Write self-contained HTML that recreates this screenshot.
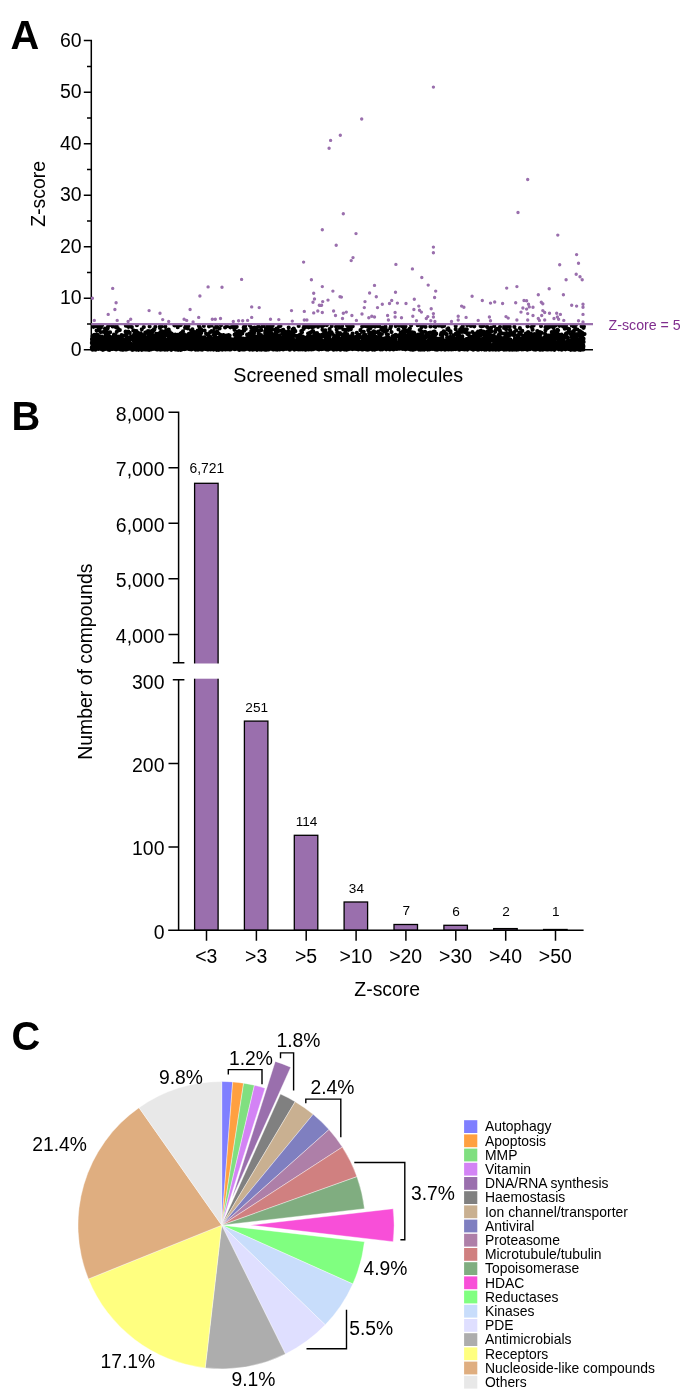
<!DOCTYPE html>
<html lang="en"><head><meta charset="utf-8"><title>Figure</title>
<style>html,body{margin:0;padding:0;background:#fff}svg{display:block}text{font-family:"Liberation Sans", Arial, sans-serif;fill:#000}.t{font-size:19.45px}.l{font-size:13.6px}.g{font-size:13.9px}.p{font-size:39.8px;font-weight:bold}.ax{stroke:#000;stroke-width:1.5;fill:none}.bar{fill:#9a6fad;stroke:#000;stroke-width:1.3}.br{stroke:#000;stroke-width:1.4;fill:none}</style>
</head><body>
<svg width="692" height="1400" viewBox="0 0 692 1400">
<rect width="692" height="1400" fill="#fff"/>
<g id="panelA">
<text class="p" x="10.6" y="49.4">A</text>
<path d="M251.3 341.7h0M127.4 338.6h0M355.8 347.6h0M341.8 347.3h0M110.2 346.5h0M136.4 348.3h0M300.9 347.5h0M201.7 345.5h0M400.9 338.0h0M287.2 345.8h0M572.8 331.8h0M234.4 344.4h0M162.8 343.8h0M493.9 344.3h0M180.8 337.9h0M275.2 343.1h0M361.6 346.7h0M193.2 348.5h0M427.0 342.4h0M380.3 346.2h0M315.0 344.6h0M436.2 333.7h0M212.0 339.4h0M523.0 344.6h0M451.2 343.5h0M149.9 339.6h0M464.8 343.4h0M111.0 340.8h0M421.0 348.7h0M523.1 337.4h0M246.3 345.5h0M377.5 337.7h0M316.5 337.5h0M325.3 330.4h0M419.0 336.0h0M410.6 344.3h0M581.1 346.4h0M281.8 342.8h0M421.2 339.3h0M174.5 348.3h0M149.4 334.6h0M155.4 343.9h0M213.7 334.8h0M131.4 337.6h0M313.1 331.0h0M495.4 343.8h0M517.5 348.0h0M268.5 340.1h0M527.4 344.5h0M178.5 348.4h0M206.0 348.7h0M382.0 338.9h0M221.2 339.9h0M273.7 349.5h0M370.8 335.8h0M345.7 345.6h0M396.0 348.4h0M535.0 347.0h0M476.1 337.8h0M285.1 337.7h0M288.3 339.0h0M122.4 341.6h0M124.9 348.3h0M259.3 344.3h0M117.6 344.3h0M141.7 349.8h0M270.9 330.6h0M394.3 346.7h0M164.9 349.7h0M271.2 341.0h0M152.2 332.3h0M321.3 325.4h0M330.1 346.0h0M260.6 347.5h0M222.2 347.1h0M103.1 344.8h0M560.3 344.5h0M359.4 348.9h0M105.0 328.7h0M434.8 345.2h0M220.4 345.9h0M472.1 345.5h0M354.2 348.3h0M201.6 341.4h0M491.6 331.2h0M488.9 348.0h0M495.0 349.4h0M346.8 343.0h0M266.9 347.6h0M229.4 349.4h0M219.4 341.4h0M312.1 327.5h0M553.5 326.1h0M271.4 348.0h0M200.3 348.9h0M192.4 343.6h0M399.2 335.0h0M328.0 339.1h0M413.5 348.6h0M417.2 346.0h0M540.0 346.6h0M327.3 334.2h0M179.7 347.7h0M486.3 341.5h0M570.5 342.1h0M558.3 343.9h0M448.9 347.4h0M166.2 345.4h0M537.6 347.9h0M499.0 344.8h0M574.8 344.9h0M362.1 342.4h0M156.2 333.9h0M351.2 347.5h0M551.8 332.1h0M498.8 342.0h0M195.7 349.7h0M210.2 341.9h0M380.7 349.2h0M156.3 339.9h0M540.2 343.4h0M379.2 341.4h0M537.3 331.1h0M338.9 339.6h0M353.8 348.0h0M308.6 349.5h0M181.9 332.7h0M176.6 349.4h0M325.0 347.9h0M252.3 337.8h0M347.1 334.1h0M144.0 344.1h0M367.8 349.7h0M472.3 342.1h0M341.9 334.9h0M541.4 343.7h0M310.1 341.2h0M344.1 342.5h0M433.1 338.6h0M327.3 346.3h0M555.7 343.7h0M556.0 331.3h0M219.6 328.5h0M505.7 341.5h0M159.3 342.4h0M127.5 342.7h0M210.3 337.1h0M478.0 343.5h0M533.8 341.3h0M417.1 337.3h0M162.2 331.3h0M199.9 333.0h0M561.1 341.0h0M579.5 343.2h0M501.9 344.5h0M345.8 341.2h0M258.8 347.0h0M447.6 341.9h0M101.3 340.1h0M100.6 346.4h0M255.1 341.7h0M123.4 341.8h0M577.1 343.7h0M143.3 343.3h0M111.2 348.4h0M155.5 342.4h0M299.8 334.8h0M219.1 340.5h0M165.3 339.0h0M436.9 343.8h0M135.8 336.2h0M301.3 344.7h0M127.4 337.3h0M486.7 344.7h0M133.0 347.6h0M516.9 347.0h0M315.3 343.4h0M548.4 339.6h0M223.7 341.8h0M209.2 341.3h0M145.6 348.2h0M191.1 347.2h0M245.4 344.3h0M234.6 334.7h0M338.1 345.9h0M100.7 341.9h0M215.1 334.4h0M363.3 348.3h0M185.1 327.8h0M144.1 346.3h0M495.3 339.7h0M503.0 345.2h0M285.4 335.3h0M575.8 349.2h0M260.6 342.4h0M405.1 336.8h0M291.1 348.0h0M155.7 347.2h0M126.6 349.4h0M172.1 342.5h0M133.3 339.3h0M422.1 333.6h0M230.6 349.4h0M318.1 341.9h0M169.3 342.8h0M565.7 347.3h0M571.0 343.0h0M567.6 347.7h0M244.2 349.5h0M279.8 349.5h0M325.6 343.4h0M340.4 349.7h0M94.1 349.4h0M288.6 345.7h0M112.2 341.8h0M206.4 348.7h0M380.3 334.2h0M415.7 346.9h0M444.5 342.9h0M252.4 343.3h0M577.0 340.8h0M408.7 337.5h0M113.3 339.5h0M400.8 332.5h0M453.3 347.8h0M349.8 345.0h0M340.3 341.0h0M499.0 335.0h0M379.5 338.5h0M433.4 340.8h0M205.0 344.8h0M269.5 348.8h0M143.4 343.5h0M401.1 339.3h0M400.3 345.1h0M93.3 339.8h0M484.8 349.7h0M355.4 338.5h0M416.6 335.5h0M216.0 343.5h0M128.4 348.3h0M192.8 334.5h0M456.3 338.8h0M280.2 348.1h0M327.8 343.2h0M395.7 334.9h0M408.5 345.0h0M216.8 347.3h0M458.0 345.7h0M97.8 338.2h0M121.6 348.1h0M432.8 335.7h0M424.7 346.9h0M320.7 338.7h0M321.5 335.0h0M189.9 336.1h0M573.7 348.2h0M317.9 349.1h0M495.7 339.6h0M224.1 347.7h0M195.1 343.6h0M378.2 347.6h0M161.5 326.5h0M157.0 346.3h0M495.9 329.9h0M438.3 348.7h0M205.7 341.0h0M103.9 343.2h0M93.5 339.4h0M240.5 349.3h0M161.0 345.2h0M505.8 342.9h0M92.6 349.7h0M150.9 331.6h0M548.2 345.1h0M234.5 329.8h0M275.1 335.4h0M269.5 328.0h0M302.6 349.3h0M141.8 346.8h0M503.0 344.8h0M214.6 328.0h0M222.7 343.6h0M275.7 349.4h0M562.9 336.8h0M402.6 338.2h0M541.8 338.6h0M446.3 345.4h0M116.1 348.6h0M462.6 339.4h0M409.3 349.1h0M548.4 346.9h0M154.4 341.2h0M238.4 348.3h0M455.9 342.5h0M415.0 348.7h0M240.0 340.9h0M174.2 346.4h0M171.4 344.4h0M336.7 329.8h0M200.1 338.8h0M160.5 332.0h0M186.5 342.5h0M136.6 345.1h0M209.5 349.2h0M528.9 337.4h0M461.1 341.4h0M350.0 344.7h0M277.4 348.0h0M228.5 346.9h0M568.6 341.9h0M402.0 341.8h0M516.9 348.2h0M214.1 342.4h0M288.7 327.5h0M509.9 341.9h0M521.9 347.4h0M441.3 349.5h0M533.1 337.3h0M91.8 347.7h0M284.6 333.8h0M513.3 341.9h0M570.8 349.8h0M167.8 345.2h0M349.1 340.4h0M447.4 329.1h0M410.7 348.8h0M363.5 339.3h0M111.2 348.4h0M545.0 343.0h0M409.8 348.1h0M215.8 345.1h0M405.3 348.3h0M126.4 345.4h0M350.1 341.6h0M201.9 345.1h0M387.9 341.7h0M318.7 349.3h0M564.3 337.6h0M325.9 334.2h0M207.4 349.4h0M439.0 325.6h0M243.2 338.7h0M424.1 348.3h0M298.7 349.2h0M547.6 335.7h0M203.5 341.3h0M299.0 348.0h0M428.1 344.3h0M455.9 333.7h0M340.5 342.8h0M245.3 325.6h0M495.8 349.0h0M466.5 343.1h0M237.0 339.1h0M184.0 346.5h0M201.8 337.6h0M559.2 342.8h0M163.8 344.6h0M571.7 345.7h0M161.6 346.6h0M285.5 348.7h0M534.3 338.3h0M583.3 339.5h0M550.8 346.9h0M552.9 344.4h0M459.5 336.0h0M278.3 347.0h0M275.9 346.9h0M93.1 344.7h0M229.6 335.6h0M152.7 330.7h0M566.9 347.4h0M496.6 341.2h0M496.8 347.0h0M325.0 348.6h0M275.4 344.3h0M271.2 346.8h0M533.7 340.2h0M491.8 347.9h0M469.5 347.3h0M122.5 349.2h0M545.1 349.1h0M534.5 334.0h0M258.8 346.4h0M395.7 326.1h0M220.9 348.1h0M227.5 341.7h0M93.6 349.0h0M404.1 328.6h0M556.5 342.9h0M325.9 348.7h0M563.2 340.8h0M215.4 347.1h0M303.6 327.9h0M181.9 348.9h0M487.2 348.5h0M472.5 332.1h0M391.0 345.9h0M270.0 342.4h0M477.2 344.2h0M462.7 346.8h0M213.6 347.5h0M364.0 348.8h0M252.2 330.2h0M578.5 347.4h0M222.2 346.1h0M337.3 347.6h0M441.5 343.2h0M297.1 347.5h0M397.4 342.5h0M509.1 335.7h0M419.1 336.6h0M236.5 337.2h0M371.1 338.9h0M189.9 338.6h0M213.6 349.6h0M527.4 344.3h0M376.7 345.4h0M580.8 341.3h0M341.7 347.8h0M413.7 332.6h0M580.0 341.1h0M495.4 343.3h0M505.9 347.5h0M236.4 348.4h0M150.4 340.3h0M379.1 326.0h0M550.1 336.5h0M313.0 336.0h0M219.8 345.8h0M143.8 327.1h0M385.5 344.9h0M273.4 345.2h0M161.4 347.7h0M387.1 342.8h0M412.8 349.4h0M253.0 348.4h0M426.0 346.5h0M191.9 342.2h0M483.6 346.5h0M141.7 348.8h0M286.5 336.9h0M136.6 345.6h0M172.4 346.5h0M231.3 340.6h0M243.3 341.9h0M370.9 347.4h0M267.7 333.3h0M582.8 340.3h0M271.0 344.8h0M192.1 335.3h0M94.6 341.6h0M496.0 344.0h0M291.9 341.9h0M171.8 342.7h0M99.0 336.9h0M540.0 345.5h0M135.6 343.2h0M340.3 343.4h0M163.6 347.4h0M547.8 338.5h0M145.3 332.6h0M568.2 348.8h0M188.9 333.8h0M572.4 333.5h0M329.6 329.2h0M282.9 342.6h0M537.3 336.9h0M170.7 337.6h0M479.0 348.1h0M508.8 340.2h0M500.3 347.1h0M288.7 343.7h0M346.9 346.2h0M213.5 346.5h0M448.9 347.6h0M368.8 348.1h0M465.0 332.1h0M149.7 345.5h0M387.1 337.1h0M242.6 345.7h0M298.7 341.1h0M416.4 344.8h0M311.9 347.9h0M396.7 349.0h0M332.9 348.3h0M476.1 333.7h0M317.5 345.2h0M144.5 340.0h0M155.0 346.0h0M309.5 348.0h0M343.1 336.7h0M132.2 346.4h0M453.2 347.8h0M118.4 338.6h0M340.0 333.0h0M158.8 333.6h0M514.1 334.3h0M493.3 349.4h0M187.2 338.8h0M563.1 348.5h0M543.1 341.3h0M550.3 335.3h0M124.0 340.3h0M169.9 336.9h0M533.5 347.1h0M162.5 332.5h0M339.2 344.1h0M221.2 346.7h0M341.1 348.7h0M181.4 347.4h0M171.2 336.5h0M533.0 344.2h0M174.9 348.8h0M353.2 345.2h0M405.3 337.5h0M365.3 334.9h0M377.5 346.5h0M581.0 346.8h0M402.1 336.4h0M222.2 339.3h0M579.8 341.8h0M468.5 345.6h0M309.7 342.8h0M115.5 335.7h0M495.7 349.5h0M576.6 336.2h0M380.4 345.5h0M92.6 342.7h0M108.4 342.0h0M304.7 339.2h0M344.3 345.8h0M203.7 346.7h0M413.6 349.1h0M266.6 349.7h0M144.1 345.6h0M379.3 344.5h0M382.0 346.0h0M325.7 337.0h0M158.1 343.2h0M165.3 347.0h0M138.9 337.3h0M477.1 335.1h0M289.8 349.7h0M409.5 348.4h0M368.8 341.7h0M310.4 338.7h0M553.5 349.1h0M536.9 342.6h0M113.4 340.3h0M208.8 347.9h0M120.5 349.5h0M363.2 348.3h0M555.4 345.8h0M391.4 344.8h0M341.5 338.8h0M177.8 336.2h0M244.2 348.9h0M530.0 346.9h0M477.5 349.6h0M507.8 348.7h0M458.9 334.5h0M314.7 346.4h0M203.0 344.3h0M110.8 345.5h0M257.0 349.8h0M508.3 335.1h0M442.4 348.6h0M306.6 337.8h0M480.2 342.4h0M408.1 348.7h0M567.3 345.8h0M99.2 330.6h0M220.0 348.4h0M557.2 334.1h0M459.4 340.7h0M253.6 332.4h0M209.6 338.6h0M433.1 342.4h0M419.5 339.2h0M505.5 348.4h0M435.5 343.4h0M448.8 341.8h0M372.8 347.5h0M398.5 343.6h0M130.0 345.3h0M105.0 347.0h0M144.3 341.9h0M161.6 346.0h0M105.9 335.7h0M404.1 346.0h0M435.2 349.5h0M382.7 346.3h0M270.8 342.5h0M530.9 333.7h0M124.2 335.5h0M557.1 334.2h0M144.5 348.5h0M108.7 345.3h0M509.5 344.7h0M498.3 337.3h0M402.9 348.8h0M139.9 345.5h0M464.9 347.5h0M300.5 341.8h0M102.0 349.5h0M444.4 342.0h0M273.1 339.2h0M339.9 327.6h0M511.3 348.0h0M295.2 348.2h0M306.8 348.5h0M439.0 341.1h0M356.8 345.8h0M136.5 331.2h0M495.7 349.6h0M191.3 349.4h0M467.3 348.9h0M333.6 349.7h0M333.9 348.0h0M335.4 344.0h0M262.8 346.2h0M556.8 343.4h0M231.5 346.5h0M337.3 335.4h0M145.9 347.2h0M480.0 346.8h0M435.3 346.7h0M266.9 336.8h0M289.4 334.0h0M134.2 337.5h0M529.5 343.4h0M221.4 348.8h0M535.8 340.5h0M527.3 349.7h0M206.8 338.4h0M463.5 346.9h0M462.8 344.4h0M252.7 342.8h0M168.2 342.0h0M457.4 338.1h0M175.3 334.6h0M377.1 343.6h0M153.8 330.5h0M209.0 345.1h0M186.1 345.1h0M507.5 335.7h0M167.9 345.8h0M252.6 343.8h0M349.0 345.3h0M185.0 342.6h0M572.3 349.2h0M566.0 345.4h0M141.8 329.3h0M483.4 331.6h0M453.1 344.0h0M406.1 347.3h0M144.4 347.2h0M108.4 340.7h0M288.3 346.1h0M338.3 335.6h0M403.3 344.7h0M389.2 348.6h0M291.1 348.6h0M303.6 329.0h0M374.6 349.7h0M204.3 339.8h0M447.6 337.8h0M436.7 338.6h0M511.8 344.0h0M315.4 337.5h0M246.0 346.8h0M298.5 346.7h0M477.3 346.7h0M214.9 336.7h0M300.4 337.0h0M293.4 346.1h0M424.5 344.3h0M414.2 347.2h0M475.2 341.3h0M572.0 342.7h0M110.5 344.4h0M477.0 348.3h0M555.2 345.4h0M374.8 349.3h0M358.3 347.5h0M406.7 338.6h0M500.2 340.1h0M558.9 348.5h0M195.2 346.0h0M467.6 341.1h0M152.0 340.9h0M119.6 348.9h0M226.9 348.5h0M298.0 348.9h0M298.9 347.0h0M222.4 341.4h0M202.3 348.6h0M351.4 327.2h0M199.6 346.8h0M196.2 340.8h0M155.4 346.9h0M404.3 332.7h0M322.9 343.5h0M566.7 347.2h0M265.7 338.5h0M493.9 336.3h0M322.4 346.5h0M153.4 338.2h0M502.6 338.4h0M223.5 335.1h0M277.1 349.6h0M183.3 339.8h0M93.0 348.4h0M212.4 342.2h0M240.4 339.8h0M405.8 348.5h0M416.6 335.6h0M512.8 333.1h0M119.8 340.1h0M478.1 331.5h0M160.9 343.2h0M99.1 338.0h0M97.4 336.5h0M214.9 345.6h0M141.7 345.5h0M474.3 344.4h0M262.4 337.9h0M481.8 332.9h0M174.4 339.7h0M476.7 341.6h0M421.1 336.6h0M505.1 339.4h0M189.0 345.7h0M457.3 338.8h0M307.8 340.8h0M222.0 341.6h0M207.1 342.7h0M120.5 341.3h0M321.9 343.0h0M337.2 341.1h0M357.6 349.1h0M506.0 349.0h0M322.3 336.8h0M505.9 344.4h0M276.5 328.6h0M128.9 338.0h0M405.6 348.3h0M392.1 348.1h0M428.1 342.0h0M575.5 346.2h0M343.3 329.5h0M108.4 347.8h0M445.6 343.7h0M516.3 343.7h0M272.1 338.3h0M471.4 347.9h0M195.5 340.6h0M364.7 345.8h0M499.1 345.0h0M290.7 332.6h0M339.9 348.3h0M572.2 338.6h0M414.3 347.6h0M248.0 341.5h0M239.2 338.2h0M478.2 342.8h0M111.4 346.4h0M360.5 330.2h0M116.2 349.5h0M185.3 348.8h0M545.8 339.0h0M480.5 341.0h0M540.1 339.7h0M400.6 341.3h0M434.9 337.9h0M196.4 341.6h0M420.4 334.2h0M141.7 345.6h0M181.0 333.8h0M542.2 346.0h0M414.8 337.8h0M479.3 336.8h0M368.7 349.4h0M299.6 341.7h0M248.6 337.4h0M551.9 344.0h0M118.6 347.3h0M150.3 348.7h0M491.0 330.8h0M311.7 340.1h0M98.7 340.1h0M553.8 341.5h0M575.0 340.1h0M142.0 348.3h0M409.3 348.5h0M99.4 344.5h0M94.1 347.8h0M567.9 345.4h0M135.1 346.4h0M100.5 346.1h0M446.2 349.0h0M184.1 334.3h0M116.4 347.5h0M513.3 334.9h0M451.3 338.2h0M441.2 343.0h0M318.7 343.2h0M566.9 346.8h0M445.1 348.2h0M412.4 349.7h0M494.5 342.6h0M451.2 345.8h0M173.5 342.7h0M121.2 341.4h0M272.8 340.7h0M425.3 345.2h0M163.1 347.1h0M409.5 341.1h0M402.0 341.6h0M479.2 345.2h0M557.4 347.1h0M235.8 337.8h0M121.6 335.1h0M499.4 347.4h0M255.3 329.1h0M501.4 333.6h0M387.9 346.2h0M529.4 340.4h0M277.3 344.6h0M533.3 337.9h0M489.6 349.7h0M221.3 349.3h0M299.9 334.8h0M529.0 340.7h0M112.5 341.1h0M519.1 334.7h0M373.5 347.0h0M489.4 331.4h0M429.1 342.3h0M133.6 345.3h0M364.6 347.9h0M461.4 343.7h0M550.9 348.5h0M425.7 336.8h0M321.0 347.8h0M461.9 342.8h0M481.8 345.8h0M489.2 348.8h0M472.2 348.5h0M533.7 337.3h0M527.9 339.1h0M382.1 348.3h0M184.9 347.7h0M437.2 344.2h0M270.5 340.9h0M346.6 346.0h0M165.1 340.6h0M144.0 340.8h0M403.5 348.5h0M386.0 344.4h0M261.7 347.9h0M108.2 349.6h0M579.8 342.5h0M371.2 341.6h0M220.6 348.0h0M558.1 339.9h0M469.8 339.5h0M216.9 327.5h0M110.4 348.0h0M132.9 344.1h0M116.8 331.8h0M317.5 343.0h0M558.5 346.9h0M386.4 347.9h0M287.5 332.2h0M218.4 333.3h0M369.9 334.7h0M421.7 331.4h0M285.4 344.5h0M567.6 348.0h0M580.4 349.3h0M217.8 347.2h0M265.2 332.9h0M504.3 337.9h0M114.9 346.4h0M410.4 335.2h0M577.3 344.8h0M463.7 348.0h0M554.6 346.2h0M383.2 342.6h0M465.2 343.1h0M218.4 344.6h0M152.9 344.0h0M209.2 349.1h0M162.2 349.1h0M445.1 348.4h0M187.8 328.5h0M200.4 344.9h0M552.0 336.4h0M160.6 335.0h0M312.1 331.8h0M506.8 337.3h0M401.4 341.5h0M497.3 347.2h0M327.0 346.1h0M200.9 346.0h0M119.7 347.1h0M163.0 338.0h0M520.8 348.8h0M168.4 340.0h0M225.3 345.2h0M174.4 342.5h0M333.7 341.3h0M148.0 331.1h0M574.0 330.8h0M421.0 342.7h0M195.8 342.0h0M218.7 348.7h0M191.1 330.5h0M583.6 327.8h0M547.6 343.4h0M533.3 345.3h0M120.0 348.6h0M574.0 341.9h0M99.6 346.7h0M160.8 341.6h0M92.6 344.0h0M183.3 339.7h0M306.2 344.1h0M373.3 346.3h0M159.7 342.8h0M442.4 335.0h0M188.6 346.2h0M391.6 347.9h0M335.9 348.8h0M393.5 343.4h0M440.5 345.0h0M191.4 338.1h0M124.1 348.7h0M447.3 340.1h0M119.0 346.6h0M506.6 341.8h0M517.7 348.1h0M540.3 349.7h0M326.6 344.6h0M183.4 344.4h0M501.5 346.0h0M274.6 345.6h0M384.9 338.3h0M311.4 349.5h0M345.8 338.8h0M494.1 339.4h0M518.2 343.3h0M279.6 336.2h0M461.9 331.9h0M561.9 342.5h0M335.5 338.1h0M356.5 348.8h0M101.9 343.2h0M181.6 348.4h0M142.3 349.7h0M106.5 332.2h0M139.2 347.8h0M100.4 343.8h0M387.1 339.5h0M438.0 344.4h0M142.4 339.5h0M114.0 338.7h0M152.3 338.6h0M229.5 349.3h0M151.8 345.5h0M383.3 346.9h0M516.0 342.3h0M459.6 339.9h0M172.7 339.5h0M283.3 329.9h0M298.9 343.6h0M286.7 340.0h0M555.6 348.3h0M210.2 341.3h0M256.8 330.1h0M541.5 339.2h0M493.4 348.0h0M346.7 347.2h0M563.7 343.2h0M299.7 346.9h0M403.5 342.1h0M125.8 341.0h0M305.1 347.8h0M160.4 349.7h0M569.6 346.1h0M403.7 327.7h0M490.5 335.0h0M108.6 336.6h0M407.9 348.4h0M226.4 335.5h0M358.9 338.0h0M215.2 343.7h0M348.1 328.4h0M233.4 340.3h0M242.2 346.9h0M384.6 345.9h0M562.9 342.3h0M321.6 349.1h0M354.8 346.9h0M156.4 345.9h0M236.4 343.3h0M211.6 345.4h0M135.0 332.3h0M392.3 344.6h0M372.7 346.1h0M441.8 344.6h0M318.8 337.3h0M322.8 345.9h0M244.7 349.5h0M344.2 343.1h0M280.5 348.5h0M265.5 349.0h0M516.4 348.9h0M333.9 337.7h0M232.1 341.8h0M472.2 349.2h0M169.8 332.2h0M308.5 341.9h0M122.3 342.0h0M454.1 343.2h0M145.5 346.1h0M455.7 326.0h0M167.8 345.2h0M424.5 342.2h0M395.4 339.4h0M346.9 335.5h0M455.8 349.1h0M325.9 333.7h0M478.5 344.4h0M154.4 329.4h0M520.8 333.6h0M380.4 349.4h0M337.1 337.7h0M297.6 346.9h0M477.9 340.7h0M278.7 340.5h0M314.6 335.1h0M236.1 345.8h0M284.2 341.0h0M250.4 346.6h0M479.6 343.2h0M310.5 340.7h0M182.5 348.0h0M375.3 344.8h0M378.3 331.6h0M251.3 338.6h0M507.3 337.1h0M192.4 329.3h0M301.9 348.6h0M115.1 349.1h0M370.1 328.4h0M472.9 349.4h0M357.1 338.3h0M346.6 349.7h0M429.4 342.9h0M384.8 344.1h0M264.7 336.2h0M350.5 345.2h0M140.5 343.0h0M368.3 343.0h0M374.6 331.9h0M331.6 332.9h0M308.6 327.3h0M260.9 327.4h0M353.0 347.5h0M248.4 344.5h0M573.9 344.5h0M146.2 339.7h0M532.5 343.3h0M579.7 333.4h0M529.4 344.9h0M234.6 347.1h0M343.8 343.6h0M181.6 349.6h0M402.2 342.7h0M581.4 344.4h0M405.4 340.3h0M479.8 347.2h0M242.9 349.5h0M241.7 349.0h0M506.7 337.7h0M188.6 342.5h0M337.0 342.7h0M410.4 347.3h0M353.6 337.3h0M294.3 349.6h0M151.6 340.9h0M144.3 336.4h0M141.0 344.3h0M497.3 339.6h0M393.8 348.6h0M97.9 346.6h0M471.4 343.1h0M266.1 336.2h0M175.2 349.3h0M537.1 345.5h0M378.6 343.7h0M281.8 341.3h0M118.6 340.1h0M564.6 341.8h0M308.4 344.5h0M113.4 344.9h0M550.4 344.7h0M534.7 343.2h0M493.8 345.5h0M564.8 337.6h0M335.9 343.0h0M283.8 347.6h0M445.8 348.3h0M523.1 341.7h0M330.4 347.9h0M177.2 342.9h0M268.3 339.9h0M235.0 326.4h0M368.4 341.0h0M281.7 342.0h0M290.4 345.3h0M498.7 347.8h0M264.8 349.6h0M231.5 343.6h0M208.6 336.1h0M260.0 346.7h0M168.5 348.6h0M224.6 345.8h0M503.2 342.6h0M503.8 342.4h0M488.4 345.0h0M447.7 342.3h0M277.4 343.5h0M560.3 348.1h0M340.5 348.3h0M156.2 339.4h0M439.8 348.4h0M381.3 329.4h0M273.0 349.5h0M196.4 336.8h0M521.6 341.6h0M359.1 341.8h0M225.0 348.5h0M415.7 340.5h0M371.5 346.3h0M134.1 341.0h0M178.9 344.8h0M418.3 343.0h0M145.4 341.4h0M338.3 346.4h0M238.0 342.3h0M203.3 346.5h0M153.9 348.2h0M290.5 342.2h0M539.6 346.7h0M516.1 330.3h0M156.8 349.4h0M426.6 347.5h0M418.7 343.9h0M416.5 341.9h0M436.3 349.6h0M265.2 331.3h0M401.6 347.8h0M541.5 345.5h0M453.4 349.2h0M111.4 347.1h0M171.5 347.2h0M279.3 342.1h0M111.0 344.7h0M180.2 337.2h0M505.4 336.1h0M217.2 343.3h0M306.0 346.3h0M92.2 341.7h0M502.8 348.5h0M112.9 342.1h0M512.6 347.5h0M212.2 347.9h0M146.5 348.1h0M542.4 343.5h0M461.1 337.2h0M285.7 342.2h0M460.1 346.1h0M136.0 343.0h0M558.1 330.3h0M432.5 339.7h0M455.7 343.3h0M314.8 338.0h0M118.5 346.6h0M344.0 340.2h0M549.1 338.6h0M113.2 338.2h0M438.0 347.3h0M361.0 342.8h0M569.4 342.0h0M214.7 340.7h0M121.0 343.6h0M191.0 342.1h0M244.7 340.0h0M422.0 338.5h0M208.9 349.2h0M311.0 338.3h0M552.9 345.0h0M527.7 343.3h0M161.6 341.9h0M493.5 346.5h0M361.9 349.4h0M420.2 344.0h0M386.7 334.0h0M501.3 345.9h0M148.1 347.6h0M193.4 341.1h0M121.4 348.6h0M437.5 343.6h0M312.5 343.4h0M322.7 344.3h0M270.6 348.0h0M97.0 346.6h0M580.6 349.8h0M445.1 345.8h0M574.8 345.6h0M332.6 348.0h0M305.7 345.4h0M95.8 338.7h0M544.9 341.6h0M552.6 339.2h0M413.3 349.7h0M160.0 342.6h0M105.3 347.0h0M237.7 331.8h0M183.2 337.9h0M548.4 335.7h0M174.7 345.9h0M457.5 332.3h0M252.7 342.7h0M249.5 333.5h0M273.3 341.1h0M501.4 346.9h0M209.7 337.9h0M401.3 346.6h0M495.7 344.1h0M557.4 329.9h0M335.3 344.2h0M239.3 349.8h0M378.1 337.1h0M172.3 342.8h0M310.1 345.7h0M111.4 349.0h0M308.3 344.2h0M93.1 335.6h0M506.1 339.5h0M301.4 336.6h0M231.3 343.8h0M299.3 340.1h0M258.6 336.7h0M498.8 344.5h0M537.2 345.7h0M310.1 342.9h0M369.3 346.2h0M133.6 344.7h0M251.2 327.6h0M518.2 343.6h0M571.9 336.9h0M491.4 346.6h0M121.3 344.0h0M238.1 338.1h0M373.2 339.4h0M410.7 346.6h0M239.2 338.8h0M105.4 333.3h0M184.8 345.3h0M133.7 340.4h0M417.2 341.1h0M296.9 340.7h0M352.9 341.0h0M148.0 346.0h0M180.7 340.5h0M147.0 342.1h0M516.6 349.7h0M353.3 345.5h0M215.7 337.7h0M203.3 349.0h0M373.9 341.1h0M381.7 342.3h0M131.2 346.7h0M308.3 347.8h0M517.2 335.5h0M464.7 345.1h0M148.2 334.6h0M142.0 348.9h0M500.8 345.3h0M564.8 346.1h0M369.2 349.0h0M474.2 344.7h0M120.1 349.0h0M99.2 340.6h0M384.6 348.0h0M440.3 342.0h0M301.6 339.6h0M521.5 341.2h0M369.1 333.0h0M174.5 340.2h0M459.0 341.0h0M427.1 336.2h0M498.6 343.2h0M455.0 343.4h0M558.9 349.3h0M389.2 347.0h0M140.8 333.4h0M147.4 344.6h0M547.7 346.5h0M186.9 343.3h0M311.9 343.2h0M147.7 339.1h0M102.0 336.6h0M183.0 338.9h0M364.8 346.2h0M279.4 335.7h0M162.8 341.4h0M431.5 341.4h0M490.0 348.3h0M260.4 349.3h0M166.1 330.4h0M486.2 349.6h0M109.2 342.5h0M426.6 333.8h0M285.2 344.3h0M508.2 349.0h0M285.6 340.7h0M129.1 340.4h0M254.0 345.6h0M382.1 330.1h0M113.2 345.4h0M322.2 341.9h0M376.1 343.0h0M94.7 344.0h0M377.1 348.8h0M318.1 348.1h0M577.8 344.7h0M422.4 348.3h0M226.1 348.2h0M220.8 338.7h0M372.1 326.3h0M580.6 345.6h0M108.5 334.6h0M521.6 343.7h0M473.3 340.7h0M270.5 339.8h0M230.5 344.4h0M554.3 331.2h0M427.5 344.4h0M456.1 334.5h0M342.5 344.0h0M363.1 343.1h0M291.8 341.8h0M251.0 346.6h0M578.8 340.7h0M211.7 348.7h0M207.4 346.8h0M95.3 345.6h0M520.9 339.9h0M372.0 346.8h0M240.7 348.1h0M240.3 346.7h0M243.7 348.0h0M553.7 337.9h0M259.5 338.7h0M131.1 343.8h0M179.8 341.1h0M473.3 336.1h0M302.8 347.4h0M330.5 347.2h0M534.8 348.6h0M103.1 342.5h0M172.8 348.1h0M199.3 335.0h0M288.6 345.8h0M517.5 337.5h0M411.1 344.7h0M566.3 335.1h0M387.9 334.6h0M523.2 341.5h0M259.8 345.8h0M356.3 345.1h0M523.1 336.0h0M196.3 333.2h0M252.7 349.7h0M291.4 336.0h0M426.3 348.1h0M295.9 347.0h0M114.1 343.8h0M335.3 343.7h0M386.3 349.3h0M98.4 339.2h0M547.7 348.4h0M394.3 338.7h0M448.6 347.8h0M168.7 346.1h0M162.0 349.4h0M492.8 345.7h0M300.3 337.5h0M365.2 346.7h0M415.6 342.9h0M456.9 344.7h0M218.8 345.9h0M474.1 334.1h0M244.1 346.1h0M315.0 343.0h0M349.6 345.1h0M96.2 348.0h0M326.2 340.6h0M270.3 336.2h0M579.3 347.6h0M136.0 333.9h0M105.5 347.6h0M339.0 347.3h0M365.3 340.4h0M271.9 329.2h0M165.3 342.9h0M545.8 335.8h0M171.6 333.5h0M211.2 346.8h0M575.8 336.2h0M261.3 349.7h0M486.2 341.6h0M536.9 347.7h0M144.8 349.4h0M409.8 346.3h0M289.7 347.6h0M369.7 347.3h0M293.7 329.7h0M400.7 338.6h0M202.1 349.7h0M305.5 342.4h0M205.7 345.1h0M408.4 334.4h0M238.8 343.1h0M372.4 349.6h0M168.9 337.3h0M223.4 335.2h0M462.1 346.4h0M255.1 342.8h0M331.0 345.4h0M428.2 346.2h0M386.2 337.8h0M526.8 346.2h0M195.1 343.1h0M476.0 343.8h0M517.2 341.9h0M581.9 332.5h0M238.4 345.2h0M571.9 349.1h0M96.3 345.2h0M454.4 346.9h0M139.8 342.7h0M136.2 337.2h0M259.0 336.6h0M526.3 342.4h0M574.5 343.0h0M482.1 348.4h0M431.5 338.8h0M205.8 347.1h0M303.8 348.3h0M580.0 348.6h0M247.7 346.3h0M331.9 346.5h0M158.6 344.4h0M429.5 347.2h0M164.6 349.0h0M147.1 338.6h0M265.9 328.4h0M263.9 349.3h0M197.7 330.5h0M452.1 345.8h0M226.2 346.5h0M125.7 343.1h0M113.0 340.1h0M366.0 349.3h0M270.4 335.3h0M413.6 348.8h0M359.8 335.9h0M575.8 345.4h0M522.4 347.9h0M248.5 340.4h0M298.3 340.5h0M281.6 348.2h0M293.7 328.6h0M94.3 334.9h0M548.2 349.4h0M277.5 336.7h0M210.3 348.3h0M507.2 345.3h0M478.0 347.3h0M433.8 348.1h0M251.6 342.5h0M247.2 340.2h0M570.5 334.0h0M512.3 349.7h0M343.1 344.1h0M401.9 332.9h0M458.0 338.9h0M285.6 339.4h0M351.0 338.9h0M250.4 340.5h0M401.6 343.3h0M393.5 348.0h0M222.3 340.7h0M447.3 343.9h0M349.0 343.1h0M161.7 348.8h0M548.7 338.4h0M351.6 347.7h0M492.5 349.4h0M496.7 344.0h0M318.5 338.5h0M532.3 336.0h0M519.3 340.8h0M501.8 347.3h0M494.7 345.9h0M215.6 346.0h0M142.4 339.1h0M348.6 336.3h0M314.8 341.7h0M583.0 344.8h0M434.2 339.5h0M485.1 346.4h0M465.6 341.3h0M272.5 338.2h0M348.3 349.1h0M259.3 340.7h0M279.5 343.5h0M372.9 349.1h0M120.2 343.2h0M227.0 336.1h0M251.4 348.9h0M136.7 331.8h0M405.2 345.8h0M300.2 344.8h0M482.2 343.0h0M113.3 343.6h0M309.8 339.7h0M237.2 338.6h0M292.7 339.4h0M265.3 335.8h0M281.6 330.7h0M186.1 339.5h0M570.4 347.6h0M419.7 340.9h0M254.1 335.3h0M278.7 342.9h0M350.8 329.3h0M464.8 349.4h0M104.3 340.9h0M319.5 344.0h0M505.4 340.5h0M530.5 344.3h0M308.5 338.4h0M498.1 349.2h0M422.1 349.2h0M111.7 340.2h0M426.7 334.4h0M471.1 344.4h0M149.9 349.1h0M494.6 346.0h0M141.8 336.2h0M369.8 341.4h0M118.8 343.5h0M329.6 336.2h0M118.7 346.2h0M379.5 340.6h0M583.6 341.9h0M163.4 332.2h0M256.5 348.8h0M578.9 349.7h0M227.1 349.2h0M217.4 341.6h0M515.0 339.1h0M298.8 345.9h0M116.9 343.4h0M486.9 331.8h0M513.9 349.5h0M117.4 343.4h0M356.3 342.3h0M332.7 342.2h0M379.4 338.4h0M190.4 337.0h0M544.8 346.9h0M246.6 348.7h0M354.4 339.5h0M251.1 343.1h0M226.5 347.5h0M441.9 342.2h0M487.2 341.0h0M552.4 344.1h0M310.9 347.4h0M305.4 347.5h0M406.7 331.7h0M127.1 344.0h0M385.5 340.6h0M368.2 330.3h0M486.3 335.5h0M424.3 349.6h0M237.0 345.4h0M163.5 332.1h0M544.0 348.6h0M138.6 345.6h0M478.2 340.4h0M416.4 346.8h0M218.6 337.8h0M168.0 341.7h0M119.6 348.9h0M503.7 347.2h0M236.4 348.4h0M248.8 337.3h0M368.0 337.9h0M251.6 332.5h0M506.3 339.9h0M574.7 335.9h0M284.6 340.7h0M407.5 347.9h0M201.8 345.7h0M320.6 348.6h0M450.6 336.8h0M148.1 343.7h0M500.0 334.2h0M582.6 334.8h0M554.7 342.0h0M263.2 348.5h0M461.5 327.8h0M137.5 349.3h0M330.6 341.4h0M358.2 340.1h0M135.3 345.0h0M531.8 344.0h0M508.3 346.7h0M107.7 328.3h0M386.8 341.2h0M557.1 348.0h0M415.2 341.6h0M313.3 347.1h0M213.6 349.5h0M479.9 343.8h0M238.7 338.7h0M138.8 344.6h0M363.5 346.8h0M319.1 337.3h0M108.3 345.5h0M410.4 349.4h0M156.7 342.0h0M276.4 345.6h0M418.5 346.8h0M555.7 344.8h0M255.1 339.2h0M328.4 333.6h0M165.1 333.5h0M149.4 338.9h0M336.2 345.2h0M322.2 348.7h0M172.5 338.7h0M272.5 347.3h0M189.1 344.5h0M154.3 346.1h0M209.9 342.0h0M530.6 341.7h0M99.1 339.5h0M481.5 346.0h0M372.8 347.2h0M461.3 343.4h0M167.4 349.6h0M285.5 347.4h0M347.0 344.6h0M133.3 330.4h0M376.8 348.5h0M478.1 337.0h0M442.0 343.2h0M387.0 347.1h0M576.1 337.0h0M432.6 346.4h0M493.2 340.3h0M319.3 335.2h0M545.5 327.2h0M294.7 348.3h0M292.3 343.7h0M453.3 346.0h0M426.2 344.7h0M160.9 342.7h0M189.4 348.2h0M572.7 341.4h0M583.2 347.0h0M336.8 339.3h0M475.7 336.5h0M405.3 341.1h0M189.8 336.8h0M479.3 336.8h0M137.2 348.0h0M171.6 341.1h0M567.6 342.4h0M158.2 335.9h0M499.9 330.7h0M458.8 341.8h0M501.9 345.7h0M306.2 337.7h0M498.3 345.7h0M239.0 331.0h0M565.2 327.2h0M148.8 345.2h0M569.0 348.1h0M504.8 342.7h0M206.1 346.4h0M208.3 339.8h0M334.5 337.7h0M441.8 341.9h0M284.9 346.2h0M428.2 333.2h0M555.8 345.3h0M134.6 341.1h0M413.2 345.3h0M384.9 342.4h0M503.8 349.6h0M332.7 348.9h0M99.8 336.4h0M298.0 338.6h0M389.7 341.5h0M197.0 347.5h0M266.0 342.4h0M235.7 338.8h0M135.1 347.8h0M309.5 335.1h0M417.4 348.1h0M428.3 345.3h0M112.2 347.1h0M225.5 344.3h0M563.7 345.4h0M530.2 344.6h0M392.4 342.3h0M337.9 343.9h0M562.7 345.2h0M501.0 348.6h0M171.6 349.6h0M178.1 349.8h0M557.4 333.1h0M215.3 344.9h0M265.3 340.1h0M516.6 342.6h0M344.9 334.1h0M532.2 334.5h0M420.1 338.0h0M310.6 343.7h0M563.7 340.7h0M403.1 339.1h0M276.9 335.6h0M538.8 347.8h0M337.2 332.7h0M119.8 330.1h0M503.1 344.9h0M312.3 338.7h0M461.8 337.9h0M461.2 340.1h0M109.0 347.4h0M561.3 345.2h0M531.0 342.0h0M375.9 339.8h0M114.7 337.5h0M407.8 339.9h0M230.1 349.2h0M359.9 341.9h0M299.0 336.1h0M488.4 347.9h0M425.1 331.9h0M441.4 333.1h0M432.2 348.8h0M375.1 344.2h0M498.7 347.4h0M160.6 341.3h0M346.0 345.7h0M455.6 345.9h0M175.8 348.6h0M238.4 346.9h0M280.4 325.9h0M183.9 344.8h0M244.2 343.9h0M249.8 347.6h0M307.7 344.1h0M285.8 345.1h0M281.7 342.5h0M192.2 348.1h0M539.5 332.5h0M405.7 344.2h0M475.4 347.6h0M464.8 344.8h0M323.4 336.5h0M462.6 344.7h0M227.4 335.9h0M352.6 333.6h0M233.8 344.7h0M471.8 344.4h0M112.1 344.1h0M266.0 338.9h0M554.9 349.1h0M126.1 342.7h0M362.0 349.5h0M295.1 335.5h0M489.8 343.6h0M409.4 344.5h0M568.4 340.0h0M473.4 338.9h0M286.1 335.2h0M260.1 344.1h0M285.2 346.8h0M183.2 341.5h0M521.2 338.5h0M421.6 347.5h0M536.0 344.0h0M124.2 343.3h0M295.3 331.2h0M420.8 349.6h0M376.5 339.6h0M226.6 342.7h0M508.0 345.4h0M166.2 332.1h0M422.6 349.5h0M534.4 338.6h0M534.6 349.0h0M411.4 332.1h0M524.7 339.7h0M438.5 338.9h0M393.5 349.2h0M389.0 346.3h0M497.9 348.8h0M202.0 343.3h0M137.9 338.2h0M487.0 326.7h0M269.0 348.6h0M505.0 346.3h0M251.9 336.4h0M160.1 349.5h0M227.2 340.1h0M365.2 346.0h0M489.6 332.5h0M146.2 345.4h0M202.3 343.8h0M254.8 343.5h0M371.8 346.4h0M194.7 333.2h0M505.4 345.5h0M106.7 338.8h0M475.1 338.7h0M300.6 347.8h0M122.8 339.3h0M379.9 338.6h0M288.9 337.1h0M203.2 348.8h0M519.3 332.6h0M565.4 349.3h0M254.0 346.1h0M327.2 349.5h0M157.6 336.0h0M440.8 345.7h0M315.8 346.4h0M290.2 344.6h0M231.0 344.5h0M346.1 335.2h0M307.8 345.0h0M188.6 335.7h0M222.6 336.0h0M571.2 344.3h0M460.1 329.5h0M447.8 343.0h0M446.3 343.8h0M98.1 347.3h0M517.3 347.4h0M221.7 336.6h0M266.8 342.8h0M580.3 338.3h0M242.4 344.1h0M266.8 348.2h0M534.7 346.3h0M142.0 339.9h0M144.3 340.4h0M323.9 336.2h0M579.9 335.4h0M326.4 340.9h0M496.7 346.6h0M369.4 346.5h0M342.0 348.0h0M102.2 342.8h0M539.6 344.1h0M574.9 327.5h0M306.9 348.8h0M491.8 340.5h0M506.3 348.8h0M197.2 348.7h0M380.2 348.9h0M500.9 348.9h0M479.1 347.0h0M529.8 349.2h0M354.9 342.2h0M399.5 346.2h0M528.0 336.2h0M193.1 348.5h0M211.7 342.0h0M143.0 344.6h0M383.1 345.3h0M316.6 345.3h0M380.3 340.0h0M308.3 338.5h0M125.0 349.3h0M323.6 346.7h0M288.9 342.8h0M209.9 336.5h0M411.8 346.0h0M161.6 339.7h0M539.7 347.0h0M209.3 347.8h0M578.0 348.5h0M480.1 340.4h0M497.7 339.3h0M110.6 338.1h0M137.9 332.8h0M110.5 347.2h0M115.7 348.5h0M199.9 327.8h0M422.8 337.5h0M544.7 344.0h0M221.3 348.8h0M464.8 348.3h0M142.9 335.0h0M183.8 347.3h0M489.4 343.9h0M143.8 340.0h0M479.5 333.5h0M92.8 336.2h0M511.3 333.2h0M339.3 343.7h0M397.2 335.6h0M130.0 340.2h0M118.4 342.2h0M287.3 347.6h0M95.5 349.7h0M500.6 347.7h0M491.6 345.1h0M412.0 348.5h0M193.8 345.6h0M572.9 347.8h0M360.8 347.3h0M451.5 346.4h0M510.4 347.2h0M272.8 346.2h0M240.9 349.4h0M390.5 344.4h0M573.9 349.7h0M128.7 348.7h0M147.7 345.2h0M348.0 337.7h0M316.2 338.9h0M411.3 342.6h0M543.3 348.0h0M541.6 332.9h0M504.3 349.3h0M427.2 347.5h0M510.6 332.1h0M180.3 341.6h0M556.3 335.9h0M216.2 344.5h0M239.8 344.9h0M138.4 342.9h0M310.0 336.0h0M551.1 348.1h0M467.4 333.9h0M462.6 343.1h0M214.8 348.1h0M205.4 348.8h0M528.5 342.3h0M471.4 345.7h0M473.6 336.7h0M353.9 339.0h0M143.4 346.0h0M400.7 342.4h0M272.6 325.7h0M171.1 344.1h0M353.3 342.8h0M553.9 340.2h0M292.5 337.3h0M568.5 342.3h0M135.9 348.0h0M538.4 342.2h0M98.4 348.8h0M579.4 334.7h0M178.6 336.4h0M432.0 344.3h0M459.3 349.7h0M218.4 342.6h0M105.3 347.4h0M219.6 343.7h0M566.9 341.9h0M415.0 339.8h0M386.3 347.0h0M123.2 342.2h0M124.7 340.8h0M161.8 349.0h0M147.3 333.0h0M226.5 348.8h0M470.9 347.9h0M241.1 345.9h0M293.2 346.0h0M450.6 340.2h0M138.4 341.8h0M501.9 346.2h0M106.8 346.6h0M513.1 343.8h0M487.4 346.1h0M96.5 343.0h0M185.3 345.2h0M416.6 346.7h0M381.0 346.6h0M162.5 344.7h0M139.6 340.5h0M413.1 348.8h0M372.4 349.2h0M99.0 346.4h0M511.8 333.0h0M270.9 331.9h0M447.8 339.0h0M215.7 337.0h0M272.2 345.2h0M214.1 349.1h0M484.0 347.7h0M468.6 340.7h0M202.1 347.5h0M281.0 343.5h0M271.7 343.0h0M520.3 341.4h0M116.6 340.4h0M207.4 334.3h0M106.2 345.4h0M318.4 348.0h0M442.3 345.8h0M328.0 347.1h0M177.4 348.6h0M150.0 339.6h0M125.2 342.9h0M553.3 341.6h0M365.1 343.7h0M458.5 346.9h0M369.1 333.1h0M514.5 332.0h0M145.9 338.9h0M209.8 345.8h0M175.8 345.5h0M132.6 344.8h0M222.4 340.4h0M452.1 344.9h0M128.4 341.8h0M192.9 347.4h0M418.4 346.7h0M576.7 346.1h0M329.0 349.2h0M413.5 348.5h0M345.3 339.2h0M456.6 348.2h0M356.4 348.7h0M389.8 338.6h0M412.6 339.3h0M557.7 336.2h0M456.6 344.1h0M536.6 342.7h0M181.3 347.9h0M536.0 337.1h0M132.1 349.3h0M308.0 347.3h0M160.9 344.1h0M379.2 335.0h0M554.7 338.1h0M97.9 341.5h0M559.1 348.6h0M343.8 339.0h0M559.0 334.6h0M198.3 348.3h0M502.7 338.6h0M316.7 344.3h0M565.4 345.6h0M260.8 341.0h0M421.2 340.7h0M171.6 348.5h0M499.8 336.8h0M218.8 349.8h0M315.5 335.9h0M159.6 344.1h0M210.2 332.2h0M165.2 333.2h0M159.3 337.3h0M528.6 348.1h0M119.8 349.2h0M380.3 344.1h0M314.7 333.0h0M417.8 339.0h0M515.6 342.5h0M555.9 347.8h0M292.6 329.7h0M143.0 343.1h0M100.3 347.9h0M568.2 342.2h0M520.7 339.5h0M510.0 344.2h0M489.4 343.3h0M149.2 340.4h0M211.8 342.9h0M486.5 339.2h0M534.6 343.7h0M129.2 348.3h0M534.0 344.3h0M432.8 347.2h0M217.7 349.0h0M349.9 340.7h0M425.5 335.8h0M399.3 342.8h0M324.1 341.8h0M96.4 334.7h0M326.0 343.2h0M410.8 336.3h0M180.5 333.6h0M206.5 345.5h0M303.9 343.5h0M293.3 348.1h0M565.6 344.2h0M454.0 345.7h0M268.9 341.4h0M154.6 335.9h0M201.4 348.2h0M109.3 342.5h0M158.7 341.5h0M130.0 344.3h0M378.7 338.1h0M267.0 345.4h0M438.8 344.3h0M329.1 347.5h0M100.4 347.3h0M273.9 344.8h0M566.0 347.9h0M408.1 331.8h0M404.4 342.9h0M188.4 326.0h0M469.3 347.5h0M496.6 342.8h0M387.9 338.4h0M381.9 334.0h0M189.4 338.1h0M449.3 348.7h0M226.0 349.0h0M177.1 349.4h0M434.6 342.9h0M222.4 349.6h0M442.1 347.9h0M148.0 349.6h0M552.3 344.5h0M257.0 348.8h0M349.1 345.6h0M327.7 340.8h0M219.1 346.0h0M171.8 348.4h0M136.7 339.3h0M221.3 339.5h0M481.9 348.6h0M334.1 341.2h0M184.5 338.8h0M117.0 344.5h0M167.6 346.5h0M445.0 341.0h0M204.8 344.8h0M138.1 333.4h0M380.6 344.4h0M487.9 335.9h0M481.6 349.3h0M418.7 345.6h0M370.1 345.8h0M378.8 345.0h0M144.9 345.1h0M219.1 344.5h0M300.4 334.8h0M106.9 346.6h0M448.7 348.4h0M407.0 342.0h0M432.3 334.4h0M192.5 336.2h0M245.0 345.9h0M169.2 343.5h0M203.2 347.4h0M444.7 332.1h0M564.2 347.5h0M247.2 341.9h0M447.1 337.5h0M135.6 345.3h0M115.9 344.4h0M550.8 349.3h0M524.0 343.7h0M150.6 348.3h0M341.5 340.8h0M444.7 348.6h0M352.5 349.1h0M126.2 345.3h0M282.4 342.6h0M421.2 349.0h0M201.0 345.3h0M442.7 339.9h0M471.3 342.6h0M548.8 342.3h0M551.9 346.5h0M316.3 346.8h0M405.5 349.3h0M575.2 347.2h0M540.0 342.4h0M396.9 342.1h0M239.5 335.4h0M471.5 343.2h0M307.2 341.6h0M138.0 344.9h0M566.5 342.3h0M470.1 347.3h0M158.2 346.9h0M172.5 347.5h0M353.8 346.9h0M177.3 344.8h0M468.7 342.1h0M152.4 345.9h0M211.4 345.1h0M219.6 349.0h0M456.7 333.7h0M324.7 336.8h0M563.0 343.6h0M321.0 345.0h0M444.6 349.3h0M187.1 344.8h0M563.9 336.1h0M258.7 338.9h0M213.9 349.5h0M579.9 339.1h0M164.9 344.7h0M176.9 343.2h0M458.7 346.5h0M297.9 344.6h0M496.6 341.7h0M96.8 340.3h0M467.9 333.8h0M560.9 337.1h0M252.9 339.6h0M222.8 335.4h0M272.0 343.5h0M278.1 343.5h0M146.0 346.8h0M294.0 329.1h0M405.0 337.6h0M212.1 339.4h0M544.9 340.1h0M450.5 331.3h0M492.4 349.5h0M279.3 335.9h0M505.5 341.9h0M257.5 341.0h0M496.1 339.4h0M509.5 334.6h0M524.8 335.4h0M458.5 332.5h0M425.3 348.1h0M520.5 347.4h0M361.6 341.5h0M477.5 347.4h0M477.2 345.3h0M259.5 345.0h0M214.6 342.9h0M104.5 344.8h0M484.2 349.3h0M125.0 346.2h0M456.9 346.4h0M289.7 339.7h0M487.1 341.9h0M403.3 347.5h0M532.6 329.7h0M453.3 346.0h0M245.2 341.1h0M143.9 340.9h0M381.2 344.3h0M330.2 339.7h0M296.9 339.5h0M194.2 340.2h0M270.3 334.1h0M434.6 331.6h0M153.2 347.6h0M382.9 348.5h0M304.8 347.8h0M137.2 339.9h0M349.8 342.6h0M267.4 334.6h0M201.3 349.2h0M199.6 332.7h0M526.9 339.6h0M279.3 349.3h0M441.5 344.0h0M240.4 347.1h0M253.8 349.1h0M361.2 343.7h0M338.3 347.2h0M563.1 345.2h0M584.5 334.1h0M182.1 343.4h0M540.2 334.5h0M519.7 344.7h0M270.0 344.0h0M103.2 346.8h0M339.3 333.3h0M562.3 337.6h0M343.4 338.7h0M162.5 344.8h0M402.7 346.5h0M388.4 340.3h0M219.4 348.2h0M344.6 340.0h0M322.5 348.9h0M259.4 349.2h0M445.0 349.7h0M217.7 342.8h0M346.3 344.0h0M537.3 338.2h0M191.2 336.7h0M460.9 342.0h0M442.6 347.9h0M504.8 342.4h0M547.6 328.1h0M309.8 342.4h0M134.2 334.4h0M425.6 342.6h0M161.7 336.6h0M583.3 346.4h0M257.3 349.1h0M189.7 342.7h0M171.2 338.6h0M241.1 342.7h0M171.5 349.0h0M186.9 345.9h0M247.3 343.7h0M328.1 349.6h0M308.4 339.0h0M557.3 347.9h0M324.0 345.7h0M163.0 337.7h0M175.1 336.5h0M568.2 343.2h0M290.5 343.7h0M265.2 341.8h0M432.1 345.5h0M517.6 346.4h0M373.9 331.3h0M450.7 349.1h0M266.4 335.1h0M289.6 334.2h0M304.9 346.2h0M418.3 338.2h0M453.9 344.7h0M272.0 348.1h0M511.4 346.6h0M425.4 337.5h0M259.3 338.5h0M290.1 345.7h0M181.6 334.6h0M486.2 336.3h0M104.9 345.0h0M336.0 340.0h0M270.8 342.8h0M353.9 344.4h0M549.7 342.8h0M255.6 341.5h0M282.5 336.8h0M220.1 339.2h0M274.3 342.9h0M541.6 343.9h0M357.3 348.4h0M496.5 341.3h0M170.7 349.1h0M186.9 347.9h0M121.0 348.0h0M204.1 344.8h0M120.1 348.5h0M446.6 334.4h0M540.3 338.4h0M546.0 345.9h0M135.9 340.7h0M186.8 345.2h0M460.3 343.9h0M137.6 342.5h0M521.9 349.5h0M573.1 337.0h0M110.5 345.2h0M102.4 348.1h0M440.7 346.6h0M171.5 346.4h0M180.9 338.8h0M569.5 340.8h0M269.4 339.7h0M284.3 348.5h0M216.5 347.0h0M582.0 332.5h0M178.0 347.5h0M264.7 344.8h0M455.0 338.9h0M427.2 345.6h0M108.2 334.1h0M375.4 343.5h0M314.2 340.3h0M257.8 341.0h0M286.8 332.1h0M542.5 343.2h0M368.1 346.1h0M280.6 345.2h0M432.1 332.6h0M479.0 349.3h0M345.4 332.8h0M295.8 349.2h0M421.5 335.9h0M293.1 343.3h0M564.8 328.7h0M394.9 343.8h0M247.6 344.4h0M537.1 344.5h0M482.1 345.6h0M580.0 332.6h0M430.8 343.1h0M221.0 335.2h0M392.7 339.6h0M332.6 334.0h0M227.3 346.3h0M550.1 348.0h0M464.7 340.2h0M374.2 336.8h0M538.8 341.2h0M551.7 344.6h0M134.7 349.0h0M228.0 345.4h0M147.7 342.7h0M449.7 342.4h0M218.2 348.1h0M139.8 336.1h0M335.1 348.6h0M414.1 343.3h0M228.6 335.1h0M556.5 334.2h0M583.5 338.7h0M490.1 344.3h0M465.5 331.5h0M289.4 344.6h0M559.9 345.1h0M460.9 349.0h0M163.1 348.4h0M578.7 346.9h0M358.3 349.5h0M405.5 344.8h0M277.2 349.7h0M108.1 332.3h0M327.2 333.9h0M531.9 340.1h0M108.7 339.3h0M445.9 347.4h0M451.0 337.6h0M183.0 331.3h0M159.0 347.9h0M183.3 345.4h0M338.2 346.9h0M550.0 344.9h0M325.2 348.2h0M541.4 342.7h0M200.7 338.9h0M570.2 342.5h0M471.7 341.8h0M513.0 341.2h0M310.3 332.6h0M488.7 337.6h0M427.8 349.6h0M320.0 342.9h0M497.2 328.8h0M170.8 344.7h0M428.7 340.6h0M174.4 346.6h0M159.3 338.9h0M223.7 347.7h0M272.9 334.6h0M382.1 344.4h0M171.6 342.9h0M564.7 343.8h0M575.5 341.8h0M568.1 340.1h0M281.4 341.9h0M105.8 347.4h0M192.5 344.3h0M401.9 344.3h0M369.2 336.1h0M270.3 345.2h0M559.6 341.9h0M516.8 340.9h0M421.8 341.5h0M239.7 339.8h0M569.3 348.9h0M123.4 349.6h0M364.3 346.7h0M149.9 338.9h0M504.1 342.8h0M548.4 337.2h0M580.6 343.2h0M92.6 336.2h0M116.0 327.3h0M245.9 338.6h0M371.8 339.9h0M536.5 349.3h0M382.2 349.1h0M191.6 348.4h0M180.0 347.6h0M551.0 346.0h0M223.5 341.4h0M251.1 342.0h0M567.9 337.6h0M124.9 341.5h0M500.9 345.2h0M459.5 349.3h0M225.0 344.4h0M417.8 342.5h0M561.6 334.5h0M413.7 348.6h0M171.1 348.0h0M268.6 337.9h0M535.3 349.6h0M169.6 344.5h0M165.3 335.3h0M170.6 340.8h0M339.5 338.9h0M295.1 344.3h0M359.6 346.5h0M300.0 349.5h0M208.4 349.5h0M497.8 342.7h0M210.7 340.7h0M282.7 343.8h0M257.0 349.2h0M421.9 343.1h0M503.1 339.0h0M546.9 346.5h0M389.4 348.3h0M132.2 346.5h0M255.1 338.1h0M300.4 342.5h0M243.7 327.5h0M212.1 348.1h0M167.9 346.9h0M540.1 341.9h0M439.7 344.6h0M114.1 347.3h0M152.0 341.9h0M168.9 338.5h0M399.8 339.2h0M257.0 345.7h0M142.2 349.1h0M343.3 334.7h0M174.5 344.9h0M417.6 340.9h0M136.8 349.1h0M201.5 349.3h0M288.0 348.5h0M430.5 345.9h0M581.5 346.0h0M422.2 343.3h0M201.4 338.0h0M304.0 341.3h0M168.4 339.0h0M579.9 344.7h0M545.1 340.7h0M332.4 343.2h0M187.3 344.4h0M490.3 340.0h0M235.6 333.8h0M325.0 342.7h0M161.3 344.9h0M429.6 349.3h0M435.4 326.8h0M114.0 337.5h0M444.2 348.3h0M250.4 345.4h0M118.2 336.6h0M263.2 342.2h0M434.4 339.7h0M228.2 338.6h0M573.7 349.1h0M136.8 349.5h0M449.5 340.8h0M168.3 339.6h0M521.4 348.8h0M279.3 345.2h0M422.6 347.0h0M266.0 349.7h0M522.7 341.5h0M539.6 349.6h0M479.1 341.4h0M569.4 340.3h0M409.1 338.1h0M188.6 345.8h0M347.3 341.2h0M275.9 348.9h0M343.3 344.0h0M228.4 346.2h0M339.5 339.9h0M419.0 349.6h0M183.1 342.3h0M471.2 348.3h0M438.5 347.6h0M214.4 338.5h0M547.8 340.6h0M234.8 349.2h0M289.8 345.3h0M329.5 332.8h0M452.0 347.4h0M268.1 339.6h0M242.7 339.7h0M453.1 337.5h0M193.9 348.1h0M414.3 333.2h0M424.9 340.1h0M226.1 338.8h0M121.7 348.2h0M565.8 347.9h0M350.3 337.9h0M488.1 328.0h0M204.7 347.4h0M483.8 345.9h0M454.9 340.7h0M224.7 349.1h0M331.8 345.0h0M510.0 330.1h0M519.3 340.5h0M246.5 346.1h0M571.8 347.5h0M230.1 344.7h0M546.1 344.7h0M511.4 343.0h0M530.7 344.2h0M472.5 347.0h0M276.3 334.7h0M308.3 335.8h0M287.6 343.8h0M101.7 345.7h0M283.9 348.8h0M274.9 348.8h0M466.8 342.6h0M399.5 337.3h0M184.6 335.6h0M392.8 348.0h0M236.5 344.0h0M539.8 332.0h0M206.7 339.1h0M250.4 343.4h0M109.6 343.6h0M388.3 337.6h0M343.0 345.1h0M245.1 345.2h0M296.9 336.4h0M148.9 334.2h0M577.8 348.7h0M211.7 331.0h0M381.1 347.9h0M484.2 348.0h0M491.1 347.8h0M327.8 333.4h0M578.1 341.0h0M204.0 346.7h0M399.7 346.6h0M361.9 331.8h0M282.5 348.4h0M219.8 345.5h0M462.6 347.6h0M319.3 338.8h0M196.4 345.6h0M136.5 349.7h0M273.5 339.5h0M234.3 345.1h0M437.6 345.7h0M343.3 347.1h0M335.0 336.7h0M194.9 336.1h0M524.2 344.4h0M394.7 343.1h0M369.3 349.0h0M562.4 345.9h0M273.7 339.3h0M353.9 340.6h0M253.1 341.1h0M258.6 333.6h0M297.4 341.1h0M289.8 347.4h0M171.5 342.4h0M311.7 337.8h0M291.7 348.0h0M317.0 333.1h0M501.7 338.8h0M105.9 338.8h0M200.0 335.8h0M424.7 346.3h0M336.6 343.6h0M177.0 348.7h0M409.7 347.3h0M409.3 342.9h0M158.8 345.4h0M342.8 346.0h0M246.4 344.9h0M329.9 348.2h0M395.6 344.4h0M426.1 343.7h0M360.9 337.5h0M373.3 338.7h0M201.2 333.0h0M371.0 343.5h0M462.8 343.0h0M569.6 342.0h0M496.9 347.2h0M393.2 346.1h0M108.1 326.5h0M450.5 339.5h0M223.6 346.4h0M499.7 344.9h0M348.3 329.9h0M308.5 347.8h0M500.8 345.4h0M516.7 338.9h0M191.8 342.8h0M104.5 344.6h0M257.6 346.4h0M399.3 348.3h0M151.2 345.5h0M229.1 343.1h0M545.1 333.8h0M579.5 339.0h0M308.6 347.6h0M548.3 342.4h0M491.2 349.0h0M136.8 343.0h0M547.6 337.4h0M516.5 345.6h0M162.4 346.5h0M479.1 339.7h0M316.4 342.0h0M230.3 327.3h0M458.8 346.3h0M434.2 343.5h0M286.9 348.7h0M561.9 343.2h0M273.2 338.6h0M104.8 349.1h0M463.0 349.2h0M267.6 330.3h0M195.1 340.9h0M416.0 337.1h0M291.8 344.4h0M544.4 348.9h0M324.2 333.1h0M189.2 349.1h0M447.7 339.3h0M138.2 335.9h0M227.7 342.6h0M277.4 341.6h0M376.9 347.7h0M92.6 339.8h0M485.3 349.4h0M363.8 331.8h0M388.1 346.3h0M474.7 346.3h0M235.6 338.9h0M425.9 337.1h0M493.4 336.7h0M561.2 344.3h0M184.9 341.9h0M342.8 344.0h0M165.2 346.4h0M282.9 331.0h0M165.1 344.7h0M185.3 338.4h0M325.8 339.8h0M339.9 347.4h0M504.1 327.9h0M189.9 347.5h0M110.6 348.4h0M356.8 337.5h0M198.9 348.2h0M449.9 341.8h0M204.2 337.4h0M274.8 343.7h0M328.2 337.2h0M432.4 344.3h0M167.3 335.1h0M141.5 344.9h0M505.1 347.7h0M214.1 347.6h0M133.1 349.7h0M332.9 345.8h0M215.1 346.5h0M274.8 339.7h0M480.3 349.0h0M201.8 345.2h0M95.8 347.6h0M435.3 345.8h0M476.2 343.3h0M109.8 349.6h0M464.7 331.1h0M285.1 338.2h0M245.7 329.0h0M344.1 339.6h0M308.9 334.7h0M501.1 343.5h0M326.3 345.6h0M530.9 341.0h0M292.6 343.3h0M319.1 339.5h0M375.0 349.4h0M517.8 337.6h0M131.1 336.4h0M573.8 335.4h0M98.2 340.4h0M507.2 340.1h0M323.3 344.3h0M442.9 343.9h0M450.6 345.9h0M415.3 336.7h0M415.9 339.6h0M251.9 348.4h0M386.0 347.2h0M422.0 345.5h0M233.1 347.7h0M360.7 341.9h0M489.9 338.2h0M125.3 339.5h0M553.1 334.7h0M273.4 347.4h0M180.2 340.9h0M296.2 342.9h0M152.0 341.8h0M568.4 348.7h0M280.5 343.5h0M569.1 347.1h0M250.3 338.9h0M285.5 335.5h0M463.9 349.0h0M112.5 345.3h0M312.9 345.3h0M308.8 345.2h0M467.6 348.9h0M347.6 344.4h0M301.3 331.0h0M209.0 342.1h0M368.1 347.6h0M310.7 348.5h0M542.9 345.7h0M441.8 337.8h0M122.8 345.7h0M240.3 347.7h0M444.5 340.6h0M154.1 348.7h0M325.0 344.4h0M201.3 349.3h0M131.9 344.5h0M346.8 346.4h0M159.2 345.5h0M215.8 340.9h0M210.5 348.2h0M457.5 347.3h0M139.8 340.6h0M386.2 346.5h0M517.1 347.0h0M433.5 347.8h0M381.3 348.4h0M336.6 342.2h0M183.7 342.6h0M380.3 346.8h0M239.1 347.7h0M133.9 336.3h0M486.5 342.9h0M148.3 349.6h0M342.4 334.6h0M275.9 349.4h0M294.9 343.8h0M575.2 345.0h0M531.5 327.0h0M218.4 348.4h0M493.0 344.9h0M583.3 345.6h0M410.9 345.3h0M130.9 338.5h0M517.1 346.5h0M395.4 343.2h0M187.3 335.1h0M139.0 346.3h0M417.3 341.2h0M411.8 343.2h0M430.4 343.8h0M564.9 348.1h0M284.4 341.6h0M434.8 345.6h0M456.6 344.1h0M372.4 342.0h0M345.7 340.9h0M567.2 328.3h0M474.8 339.1h0M505.2 349.3h0M210.3 349.1h0M554.2 334.7h0M502.4 344.3h0M479.7 344.6h0M325.9 346.3h0M485.4 341.4h0M507.0 341.9h0M175.6 338.1h0M168.4 343.8h0M257.6 347.1h0M142.2 341.3h0M201.9 337.3h0M509.5 341.0h0M240.8 333.5h0M223.5 348.6h0M306.3 348.9h0M278.9 330.9h0M276.6 348.3h0M91.9 343.1h0M216.4 348.1h0M103.7 337.6h0M378.5 341.0h0M340.1 349.6h0M569.8 342.0h0M275.1 329.9h0M153.1 348.5h0M509.7 334.9h0M490.7 347.8h0M434.4 333.2h0M167.8 344.4h0M357.7 348.8h0M186.0 340.2h0M440.8 334.9h0M401.3 342.5h0M387.0 334.4h0M371.0 341.6h0M252.4 341.5h0M142.0 345.8h0M255.9 343.8h0M409.9 328.6h0M418.2 334.5h0M311.2 343.5h0M319.3 349.3h0M145.8 341.5h0M397.1 347.2h0M428.6 343.1h0M531.6 346.2h0M334.7 346.1h0M256.5 338.9h0M482.5 339.7h0M403.0 338.0h0M177.7 327.2h0M129.2 348.1h0M328.6 349.3h0M294.8 340.4h0M510.5 347.0h0M476.0 343.8h0M241.9 346.2h0M333.9 338.9h0M340.7 341.4h0M250.9 344.8h0M257.1 329.8h0M97.6 347.1h0M300.1 348.0h0M503.9 341.8h0M504.2 326.3h0M380.4 348.5h0M280.7 349.1h0M220.6 347.3h0M358.9 347.4h0M276.8 340.1h0M142.1 349.3h0M452.2 345.8h0M148.8 337.6h0M387.0 330.5h0M465.5 329.5h0M114.3 339.6h0M228.0 340.1h0M545.1 340.5h0M213.7 331.8h0M376.0 344.0h0M466.8 344.3h0M395.5 343.9h0M549.2 339.4h0M371.0 339.3h0M580.7 343.4h0M106.1 338.1h0M449.9 346.8h0M569.1 342.0h0M404.3 342.2h0M354.6 343.3h0M98.6 327.6h0M249.6 347.4h0M481.2 347.5h0M106.9 339.6h0M209.0 336.1h0M279.6 347.6h0M352.3 335.1h0M390.1 344.0h0M562.1 338.5h0M475.7 342.9h0M346.0 347.7h0M281.8 340.0h0M177.9 335.6h0M366.9 346.4h0M100.9 327.7h0M225.1 327.4h0M172.1 348.8h0M506.0 340.2h0M549.0 342.6h0M123.4 347.1h0M157.6 344.9h0M241.3 346.0h0M151.7 337.8h0M486.7 344.5h0M496.0 349.6h0M496.2 345.1h0M491.1 327.7h0M204.6 330.6h0M498.8 349.7h0M139.8 348.1h0M404.0 333.5h0M502.0 341.3h0M502.7 349.0h0M545.6 344.2h0M429.0 336.5h0M510.0 342.8h0M215.7 346.7h0M359.2 337.3h0M529.9 335.6h0M211.1 345.2h0M151.8 336.3h0M475.3 349.0h0M140.1 341.7h0M230.6 348.4h0M493.5 339.2h0M170.4 342.9h0M525.3 344.3h0M171.5 335.5h0M136.7 342.7h0M420.8 343.6h0M418.7 346.2h0M522.2 341.0h0M107.0 344.2h0M259.6 349.0h0M443.7 333.0h0M478.2 335.3h0M154.4 346.9h0M281.5 347.7h0M456.0 342.3h0M197.2 346.3h0M517.5 342.9h0M406.3 340.6h0M545.9 348.7h0M554.6 338.1h0M516.7 346.0h0M218.1 349.6h0M339.1 345.4h0M470.4 344.2h0M579.9 341.4h0M328.8 336.3h0M531.3 337.5h0M277.0 340.1h0M456.6 340.3h0M546.7 345.4h0M345.5 342.9h0M233.5 339.7h0M541.2 346.2h0M538.1 340.1h0M566.9 344.9h0M160.2 337.8h0M521.7 343.3h0M295.4 347.7h0M509.5 349.7h0M495.5 337.2h0M197.0 337.1h0M462.5 340.2h0M188.6 347.9h0M486.0 349.3h0M573.7 345.7h0M200.7 342.8h0M375.8 342.8h0M530.4 337.1h0M271.9 345.2h0M144.6 339.3h0M379.1 345.0h0M312.1 340.0h0M264.7 348.7h0M297.7 339.2h0M382.9 329.9h0M359.2 343.3h0M247.1 346.6h0M334.9 336.0h0M193.7 341.0h0M118.2 345.1h0M477.3 342.4h0M529.9 348.4h0M309.3 333.3h0M356.6 347.0h0M124.3 349.2h0M420.7 346.3h0M544.6 341.1h0M495.8 348.7h0M364.4 346.4h0M414.2 349.3h0M331.7 347.0h0M108.5 348.7h0M229.3 336.5h0M311.3 349.1h0M181.1 343.7h0M493.7 335.3h0M263.0 345.4h0M489.3 338.4h0M285.2 341.9h0M368.6 340.4h0M422.9 325.8h0M354.1 347.0h0M256.5 346.4h0M205.4 349.0h0M310.8 348.5h0M519.7 346.7h0M240.3 334.9h0M206.2 347.5h0M448.0 342.1h0M264.2 349.0h0M493.5 337.4h0M577.4 329.6h0M96.6 330.5h0M524.0 338.0h0M283.0 347.6h0M471.1 347.2h0M478.1 343.8h0M362.9 349.4h0M109.7 338.8h0M471.7 347.7h0M92.0 339.2h0M219.3 341.6h0M405.3 335.8h0M310.1 348.3h0M193.2 335.7h0M355.4 337.2h0M189.1 340.9h0M244.8 347.4h0M263.4 346.2h0M451.2 344.6h0M452.3 347.0h0M149.2 349.8h0M139.2 344.4h0M215.8 342.3h0M527.4 349.1h0M554.1 346.5h0M434.5 334.3h0M368.2 349.1h0M563.1 326.5h0M98.2 345.8h0M189.5 342.5h0M303.7 348.1h0M503.6 348.5h0M244.0 329.4h0M225.9 348.1h0M196.2 343.0h0M150.6 343.7h0M180.3 349.8h0M311.6 337.3h0M242.0 333.6h0M448.5 347.1h0M261.0 335.1h0M368.5 341.5h0M326.1 347.3h0M528.1 345.3h0M391.5 332.1h0M528.9 337.2h0M108.3 347.7h0M355.6 343.1h0M502.8 343.2h0M419.5 340.8h0M186.5 342.8h0M575.9 342.6h0M184.2 349.1h0M226.8 347.1h0M149.7 342.9h0M177.7 340.4h0M483.4 338.8h0M516.0 342.2h0M154.1 346.5h0M323.4 333.9h0M551.1 344.8h0M563.6 341.6h0M261.2 330.2h0M190.4 345.6h0M360.7 345.4h0M510.0 348.1h0M473.2 349.7h0M141.0 336.9h0M564.0 336.5h0M448.1 339.8h0M248.1 345.9h0M461.7 340.8h0M113.1 341.2h0M487.5 346.0h0M324.1 346.7h0M360.3 342.3h0M104.1 345.9h0M515.1 349.5h0M425.5 326.8h0M558.3 338.1h0M563.2 336.9h0M450.2 342.4h0M390.3 328.3h0M307.8 347.7h0M384.9 346.8h0M106.1 342.8h0M546.7 349.4h0M159.1 347.1h0M581.9 349.4h0M163.9 343.3h0M534.1 343.4h0M156.3 339.0h0M295.4 349.1h0M298.3 349.5h0M119.8 345.3h0M561.7 349.7h0M506.2 349.5h0M434.4 347.0h0M334.6 344.5h0M344.1 349.5h0M486.9 336.6h0M298.6 335.5h0M222.9 349.1h0M410.8 339.2h0M372.5 341.0h0M344.3 342.5h0M579.0 349.4h0M253.6 348.1h0M246.0 342.7h0M108.8 342.8h0M545.5 330.3h0M435.4 347.9h0M451.4 349.4h0M451.0 341.7h0M193.2 337.7h0M473.9 345.5h0M174.4 339.9h0M488.2 335.0h0M573.6 345.0h0M144.2 345.4h0M448.3 349.4h0M475.9 336.0h0M346.0 329.9h0M411.2 341.6h0M415.0 340.4h0M464.7 343.9h0M373.9 342.9h0M299.3 342.5h0M304.7 341.4h0M284.4 346.4h0M302.0 332.2h0M136.2 331.4h0M100.0 348.1h0M312.9 340.4h0M383.3 345.1h0M99.3 344.6h0M522.3 342.5h0M321.0 346.9h0M251.3 331.0h0M503.9 342.6h0M210.5 349.4h0M484.3 335.1h0M323.1 344.5h0M485.1 345.3h0M517.2 346.9h0M384.3 346.1h0M577.2 347.5h0M163.2 339.5h0M121.5 349.4h0M490.3 346.2h0M419.7 330.0h0M551.3 346.5h0M395.6 339.5h0M299.1 342.4h0M214.7 335.9h0M151.7 343.1h0M204.5 343.0h0M251.7 339.4h0M308.3 347.5h0M446.6 344.2h0M254.6 327.7h0M253.1 341.8h0M390.4 342.3h0M398.9 343.5h0M406.2 348.4h0M152.9 347.7h0M367.9 345.9h0M396.4 342.6h0M535.6 342.5h0M380.4 349.1h0M227.5 348.7h0M220.8 344.4h0M307.9 345.0h0M186.5 346.7h0M156.6 347.9h0M286.4 341.5h0M466.1 340.9h0M287.1 343.6h0M473.2 341.6h0M545.7 344.1h0M215.2 338.3h0M427.8 348.2h0M279.6 349.1h0M528.0 344.7h0M268.9 346.4h0M351.2 339.8h0M193.6 346.0h0M427.5 342.1h0M359.5 334.8h0M305.1 349.6h0M125.7 349.4h0M497.2 343.2h0M362.7 346.5h0M235.2 343.4h0M229.7 340.2h0M480.3 335.9h0M435.7 339.4h0M147.6 340.6h0M113.6 346.0h0M352.1 343.5h0M496.8 341.1h0M211.0 344.6h0M575.5 349.6h0M114.4 341.1h0M575.6 349.1h0M149.5 331.3h0M413.5 337.4h0M238.1 334.1h0M141.4 344.4h0M574.0 333.4h0M408.5 346.6h0M226.0 342.7h0M134.4 347.0h0M393.5 349.5h0M264.1 345.8h0M550.4 340.4h0M213.8 342.9h0M415.5 338.3h0M343.3 341.5h0M146.3 332.3h0M177.5 349.2h0M326.4 338.4h0M364.5 346.9h0M322.5 329.8h0M112.4 348.9h0M248.4 348.2h0M162.2 336.5h0M155.2 339.8h0M236.8 341.2h0M145.1 338.1h0M430.0 347.1h0M168.2 340.4h0M416.5 347.6h0M172.9 345.2h0M290.0 343.2h0M363.4 343.1h0M363.8 335.7h0M135.0 340.1h0M254.2 332.4h0M545.5 342.1h0M468.8 333.4h0M373.8 346.1h0M149.6 349.7h0M523.0 345.5h0M250.4 339.9h0M141.4 343.3h0M439.5 345.0h0M525.9 333.5h0M248.1 339.9h0M433.3 337.0h0M274.8 346.8h0M501.7 345.2h0M318.7 346.5h0M250.0 341.8h0M344.6 349.3h0M265.8 330.1h0M433.4 334.2h0M466.3 339.0h0M365.3 344.8h0M527.8 344.0h0M486.4 348.4h0M187.8 346.0h0M566.9 333.0h0M352.4 345.6h0M364.7 340.3h0M366.3 347.4h0M136.0 345.9h0M160.1 347.7h0M423.1 338.9h0M433.0 336.4h0M550.3 348.5h0M208.4 349.4h0M475.5 343.1h0M471.3 340.2h0M168.7 329.6h0M460.0 346.3h0M287.8 342.2h0M565.1 348.8h0M477.4 346.4h0M452.3 342.4h0M331.6 347.1h0M526.1 341.1h0M429.1 338.1h0M488.3 346.1h0M352.5 348.7h0M533.9 349.5h0M443.6 331.3h0M165.0 348.6h0M258.1 345.8h0M275.5 332.5h0M581.6 348.1h0M152.4 347.5h0M129.3 342.2h0M220.4 346.2h0M312.3 331.4h0M504.8 340.0h0M367.0 342.1h0M388.7 347.0h0M262.6 326.2h0M449.8 346.1h0M498.7 345.4h0M262.0 347.6h0M153.9 329.4h0M564.2 336.8h0M200.9 349.4h0M226.6 347.8h0M119.5 341.9h0M423.7 348.4h0M368.2 343.2h0M453.8 345.2h0M431.3 347.4h0M320.3 339.3h0M232.6 339.5h0M395.4 347.1h0M183.4 337.3h0M512.3 334.7h0M493.9 343.9h0M225.3 349.4h0M455.2 345.2h0M94.8 349.4h0M265.8 342.3h0M147.1 339.4h0M507.5 338.8h0M254.0 332.1h0M242.2 338.7h0M382.2 327.7h0M498.6 338.8h0M452.9 345.2h0M576.5 345.7h0M275.6 348.1h0M583.9 326.5h0M216.6 344.6h0M104.3 342.8h0M368.0 347.3h0M269.4 330.2h0M558.3 339.4h0M523.9 349.1h0M100.8 332.1h0M296.9 342.9h0M272.7 347.3h0M378.4 348.5h0M413.3 334.9h0M138.5 346.6h0M435.0 348.0h0M263.4 347.4h0M583.4 346.8h0M485.8 333.4h0M569.6 345.5h0M548.2 342.3h0M347.2 348.2h0M575.3 348.0h0M507.1 335.7h0M293.2 332.5h0M189.8 343.1h0M515.0 338.1h0M375.0 348.0h0M163.8 340.8h0M182.9 345.0h0M294.5 341.3h0M93.1 344.3h0M137.2 348.6h0M217.6 344.9h0M489.7 337.1h0M177.7 334.8h0M94.3 349.5h0M271.3 336.9h0M100.8 343.4h0M381.5 346.9h0M575.0 348.8h0M434.0 346.2h0M144.8 348.1h0M577.6 339.7h0M251.5 345.4h0M171.7 339.9h0M290.0 347.2h0M484.1 341.8h0M182.6 339.0h0M314.9 341.8h0M544.2 337.3h0M421.8 340.1h0M274.2 340.7h0M465.4 340.3h0M324.6 335.5h0M392.0 347.3h0M300.3 345.6h0M362.7 340.0h0M533.5 337.6h0M253.6 349.4h0M201.5 339.1h0M213.8 338.4h0M431.9 340.3h0M554.4 349.8h0M306.9 338.8h0M191.9 334.2h0M262.0 346.3h0M242.6 349.5h0M326.5 349.4h0M549.9 336.4h0M421.7 346.1h0M109.7 349.8h0M304.4 338.3h0M403.4 347.8h0M191.4 343.7h0M564.8 342.1h0M268.0 341.1h0M221.3 341.6h0M476.0 342.6h0M249.8 349.6h0M526.4 347.2h0M239.1 349.8h0M392.1 348.1h0M475.7 345.5h0M284.2 339.9h0M307.7 348.3h0M579.8 331.2h0M454.3 339.4h0M436.7 348.2h0M501.2 347.8h0M423.4 344.2h0M223.3 343.8h0M545.5 347.9h0M259.5 349.4h0M263.6 325.8h0M536.7 338.9h0M493.2 339.9h0M146.7 349.5h0M449.4 343.7h0M481.9 334.1h0M151.2 345.6h0M506.8 349.4h0M500.3 342.9h0M514.0 349.1h0M151.0 349.5h0M576.1 349.3h0M296.2 347.5h0M378.0 332.8h0M578.1 346.5h0M566.5 328.2h0M132.2 349.8h0M251.7 343.0h0M260.0 346.4h0M306.0 349.6h0M154.8 338.6h0M437.6 349.6h0M348.0 348.9h0M295.4 341.2h0M458.5 344.0h0M244.1 330.7h0M509.7 348.8h0M292.8 337.4h0M371.1 346.0h0M245.1 347.8h0M152.5 335.4h0M452.1 345.2h0M395.2 345.6h0M498.7 335.1h0M396.8 348.1h0M286.2 337.6h0M224.3 338.5h0M403.3 334.5h0M551.3 346.3h0M342.7 343.2h0M120.8 346.0h0M329.1 338.6h0M540.0 337.8h0M380.1 343.5h0M478.7 349.6h0M574.9 349.6h0M482.2 346.6h0M201.2 346.5h0M416.0 348.5h0M335.2 348.4h0M94.7 349.3h0M192.8 340.5h0M92.9 349.4h0M251.5 342.7h0M296.0 344.4h0M101.1 343.3h0M504.3 349.0h0M93.1 338.7h0M206.7 341.3h0M192.9 343.6h0M495.8 346.0h0M338.6 346.7h0M368.3 343.6h0M396.4 344.2h0M423.6 340.6h0M278.0 340.2h0M125.6 331.7h0M517.9 348.0h0M537.7 335.3h0M176.4 342.3h0M262.3 344.0h0M495.3 331.8h0M502.0 333.4h0M219.9 334.6h0M374.7 346.6h0M279.8 343.6h0M141.1 348.0h0M158.7 344.0h0M228.7 341.2h0M350.3 339.3h0M512.3 349.7h0M355.2 343.3h0M175.2 349.5h0M129.6 344.4h0M264.3 339.3h0M134.9 340.7h0M199.6 340.0h0M104.8 343.4h0M138.0 338.0h0M131.3 344.6h0M472.5 349.0h0M352.7 337.1h0M259.3 340.8h0M300.2 346.6h0M357.9 334.7h0M470.9 325.9h0M357.2 347.0h0M564.4 336.5h0M570.0 349.4h0M371.9 343.2h0M308.3 347.8h0M200.7 333.3h0M441.5 339.8h0M439.9 349.1h0M448.9 330.2h0M221.7 347.5h0M421.5 327.2h0M312.0 349.2h0M267.9 339.2h0M354.1 348.1h0M243.6 341.1h0M126.5 343.1h0M176.3 341.5h0M338.1 346.8h0M352.9 345.9h0M100.8 346.5h0M367.4 342.2h0M265.0 348.4h0M249.1 349.3h0M483.9 338.7h0M94.3 345.4h0M273.5 345.0h0M288.5 331.2h0M308.1 333.5h0M375.3 336.5h0M384.8 346.7h0M499.9 348.5h0M563.6 347.6h0M355.0 346.7h0M458.8 348.1h0M275.9 345.0h0M544.2 343.7h0M273.5 346.6h0M201.4 329.9h0M225.2 347.0h0M195.4 347.6h0M483.9 341.0h0M477.6 345.3h0M442.9 348.5h0M530.2 345.2h0M267.6 345.6h0M531.0 339.9h0M327.2 349.5h0M336.4 344.4h0M116.2 339.8h0M374.5 333.1h0M517.1 343.4h0M322.6 340.9h0M144.8 348.0h0M448.3 328.4h0M342.5 335.2h0M561.7 337.8h0M384.7 331.4h0M172.9 343.8h0M210.0 342.4h0M378.8 341.1h0M318.5 344.6h0M445.6 348.8h0M356.6 343.3h0M554.4 333.0h0M546.3 346.2h0M283.2 349.5h0M313.4 349.1h0M537.7 334.1h0M160.0 328.0h0M313.9 348.8h0M143.3 338.7h0M478.9 346.7h0M183.4 344.7h0M97.5 334.8h0M138.5 349.8h0M547.7 339.8h0M201.8 344.9h0M115.2 345.0h0M134.2 341.4h0M570.7 345.4h0M266.5 349.3h0M345.9 347.3h0M357.5 339.6h0M311.5 342.5h0M253.1 342.7h0M151.0 337.0h0M144.0 342.7h0M405.4 347.4h0M569.0 331.1h0M153.0 346.1h0M482.0 349.0h0M582.4 339.0h0M386.9 344.9h0M155.6 345.3h0M392.5 336.4h0M96.8 336.6h0M96.5 342.5h0M221.9 348.5h0M518.8 336.9h0M533.6 338.9h0M368.8 349.0h0M390.6 349.1h0M394.2 348.3h0M147.8 338.4h0M201.4 347.6h0M144.4 346.6h0M215.3 346.4h0M267.6 338.3h0M566.7 343.7h0M370.4 346.4h0M513.3 342.9h0M376.2 342.3h0M578.2 345.9h0M378.5 345.2h0M250.0 334.9h0M101.7 347.3h0M341.8 344.7h0M496.1 337.9h0M322.0 344.4h0M217.9 344.1h0M343.1 343.2h0M468.7 348.4h0M337.9 345.3h0M504.1 344.1h0M536.2 343.1h0M126.8 347.1h0M403.0 331.2h0M426.3 346.9h0M257.7 336.3h0M170.6 344.6h0M271.6 346.5h0M380.2 335.8h0M142.6 348.3h0M107.2 342.6h0M407.1 330.4h0M364.9 340.2h0M544.3 338.5h0M230.3 347.6h0M320.5 339.6h0M92.8 345.5h0M266.0 345.5h0M342.6 337.2h0M326.1 335.3h0M134.7 342.7h0M106.8 345.9h0M413.2 337.6h0M338.3 339.6h0M503.4 347.5h0M388.3 345.1h0M537.5 348.5h0M360.2 342.2h0M547.4 337.0h0M518.0 339.2h0M134.9 336.1h0M320.1 346.6h0M162.6 341.7h0M518.3 349.5h0M123.0 348.7h0M366.3 337.1h0M523.5 346.0h0M143.5 344.4h0M255.3 347.0h0M165.3 346.9h0M415.3 349.1h0M410.2 336.3h0M128.9 340.6h0M519.9 328.2h0M334.2 343.8h0M131.8 348.1h0M576.6 344.2h0M357.4 340.7h0M252.6 343.4h0M418.1 347.2h0M227.5 339.6h0M298.9 348.3h0M169.5 343.1h0M330.2 347.9h0M225.5 346.8h0M570.5 348.0h0M242.3 333.5h0M134.0 330.6h0M474.7 348.1h0M115.4 346.0h0M329.4 337.1h0M419.3 343.8h0M434.4 349.0h0M155.2 343.0h0M371.7 332.5h0M343.6 347.0h0M280.9 339.0h0M363.8 341.0h0M111.1 348.6h0M582.4 338.2h0M169.7 342.2h0M513.1 346.3h0M412.6 332.9h0M389.8 349.4h0M502.8 342.3h0M359.1 349.0h0M217.1 331.6h0M294.1 347.3h0M523.2 346.9h0M429.6 337.9h0M525.3 349.0h0M126.1 340.7h0M355.2 338.5h0M336.8 349.4h0M422.0 343.0h0M259.7 330.8h0M569.8 341.9h0M228.0 345.3h0M268.7 349.4h0M128.4 325.9h0M467.4 349.6h0M271.0 346.2h0M117.7 328.0h0M508.1 347.6h0M560.4 347.0h0M410.1 342.1h0M391.6 343.4h0M351.4 336.1h0M252.6 334.9h0M96.0 347.3h0M414.5 336.3h0M128.3 331.7h0M271.0 340.4h0M324.7 343.6h0M404.7 348.8h0M122.0 335.3h0M169.3 343.9h0M466.1 332.3h0M481.3 346.3h0M558.6 347.3h0M498.0 338.1h0M489.1 340.0h0M179.6 339.5h0M258.4 341.2h0M476.8 333.0h0M234.9 346.5h0M122.1 349.7h0M253.2 329.2h0M268.5 338.9h0M283.0 342.6h0M402.4 340.5h0M308.5 326.6h0M228.4 343.9h0M350.6 344.6h0M163.8 349.1h0M341.4 346.7h0M120.8 340.1h0M552.5 336.9h0M114.0 334.7h0M411.9 345.3h0M299.4 343.9h0M464.0 340.7h0M290.0 345.9h0M348.3 345.3h0M185.5 326.7h0M157.0 341.3h0M447.2 347.1h0M111.2 345.8h0M548.6 341.7h0M239.6 342.2h0M354.6 346.4h0M230.1 345.1h0M440.7 341.2h0M235.4 338.1h0M445.8 346.5h0M413.2 346.2h0M147.0 348.1h0M164.0 347.3h0M417.9 344.2h0M259.7 344.0h0M212.8 346.0h0M181.8 340.9h0M376.7 338.4h0M215.5 344.5h0M302.9 336.5h0M391.2 344.1h0M136.9 341.2h0M271.3 341.1h0M406.6 346.7h0M135.3 346.9h0M275.6 331.0h0M275.0 342.6h0M195.1 349.2h0M155.1 345.4h0M562.9 339.3h0M566.0 333.7h0M504.8 333.5h0M103.8 331.9h0M522.3 330.9h0M395.2 342.3h0M301.0 342.8h0M163.5 342.5h0M151.8 347.5h0M520.6 332.4h0M236.6 341.0h0M375.9 346.8h0M194.7 332.1h0M410.9 341.8h0M131.1 346.9h0M331.5 332.4h0M191.8 347.3h0M183.1 343.9h0M206.1 333.7h0M404.1 345.9h0M440.7 349.0h0M336.6 341.6h0M555.2 342.8h0M284.5 340.5h0M340.8 346.3h0M113.1 340.5h0M262.8 341.4h0M231.9 341.2h0M506.1 329.3h0M278.2 340.2h0M190.4 342.5h0M108.1 349.3h0M370.1 344.1h0M100.1 344.1h0M413.8 349.0h0M393.7 335.8h0M349.0 349.0h0M98.2 339.1h0M514.5 346.9h0M112.4 344.3h0M198.5 340.5h0M291.8 338.6h0M199.7 344.1h0M437.5 343.1h0M396.0 336.9h0M442.5 342.2h0M428.3 347.4h0M287.5 335.8h0M468.0 338.8h0M387.4 348.3h0M569.1 329.0h0M559.8 340.5h0M426.3 334.7h0M505.5 346.4h0M286.4 339.9h0M483.8 343.1h0M522.3 340.0h0M107.4 339.2h0M139.7 348.9h0M506.7 333.0h0M202.6 339.4h0M157.7 349.5h0M293.9 335.5h0M385.5 327.9h0M341.8 342.2h0M357.6 340.3h0M431.7 347.5h0M146.7 342.0h0M466.8 329.3h0M359.3 347.2h0M137.2 346.4h0M357.4 335.9h0M182.1 336.7h0M460.9 346.0h0M514.7 339.6h0M183.7 343.9h0M449.8 340.0h0M312.9 343.6h0M284.8 331.7h0M298.5 348.0h0M439.7 339.0h0M270.0 344.0h0M97.5 340.3h0M565.9 347.0h0M564.2 338.2h0M193.6 343.9h0M167.1 347.3h0M511.2 347.0h0M225.6 349.5h0M343.6 346.1h0M537.5 342.5h0M310.8 348.4h0M147.3 337.0h0M347.9 347.3h0M362.0 346.5h0M244.2 349.4h0M539.9 336.6h0M390.9 347.3h0M438.5 344.2h0M491.0 340.7h0M231.1 346.0h0M322.0 341.3h0M458.4 341.0h0M468.6 347.5h0M276.6 336.8h0M325.4 335.9h0M174.7 347.1h0M504.8 345.4h0M510.2 342.8h0M577.2 334.1h0M110.1 332.3h0M562.5 349.0h0M467.2 347.4h0M171.2 349.8h0M152.8 348.7h0M267.9 340.5h0M262.3 344.4h0M455.7 329.2h0M176.0 348.7h0M543.8 340.1h0M351.3 342.2h0M175.4 346.9h0M188.3 343.7h0M394.3 342.5h0M374.2 335.3h0M499.4 334.0h0M341.9 340.2h0M403.2 348.7h0M291.8 335.1h0M447.3 345.3h0M239.9 347.2h0M462.3 336.4h0M360.5 348.5h0M443.9 344.6h0M326.7 340.3h0M460.9 339.6h0M219.6 344.8h0M382.1 349.4h0M205.8 343.3h0M532.7 336.9h0M454.1 335.0h0M224.2 348.6h0M551.4 349.4h0M402.6 341.0h0M335.7 342.3h0M422.2 344.7h0M398.5 329.5h0M127.5 341.5h0M241.7 331.8h0M442.3 337.2h0M126.4 334.6h0M504.1 349.6h0M430.1 332.6h0M321.2 335.8h0M581.7 339.9h0M564.1 335.9h0M422.1 342.9h0M288.9 338.4h0M198.0 349.7h0M220.4 339.5h0M435.4 334.5h0M431.0 337.4h0M420.1 349.0h0M95.3 326.2h0M193.1 341.1h0M322.1 343.3h0M497.8 346.4h0M107.8 344.7h0M519.5 333.5h0M218.4 341.4h0M313.6 346.0h0M560.2 336.0h0M146.1 345.8h0M94.0 349.4h0M497.7 345.3h0M214.8 335.9h0M186.2 346.0h0M441.9 345.0h0M129.1 339.2h0M502.1 346.9h0M432.1 337.6h0M259.2 343.9h0M456.3 343.7h0M369.2 345.1h0M325.8 344.5h0M98.8 339.8h0M157.7 346.9h0M529.7 338.9h0M483.3 338.3h0M247.1 334.7h0M282.5 342.1h0M572.6 348.4h0M244.4 326.1h0M299.4 344.2h0M526.5 337.1h0M431.3 337.8h0M447.9 337.4h0M510.4 339.7h0M479.0 341.8h0M474.4 348.2h0M327.5 346.8h0M224.2 342.3h0M316.4 343.8h0M356.8 332.8h0M230.7 339.2h0M227.1 347.9h0M510.3 345.5h0M544.8 343.5h0M537.3 343.4h0M517.5 342.4h0M124.5 345.8h0M214.7 348.1h0M216.7 349.8h0M324.8 347.5h0M152.4 344.8h0M254.5 345.7h0M142.5 347.2h0M485.8 347.8h0M488.1 347.9h0M507.4 345.1h0M495.8 343.3h0M131.8 327.1h0M200.8 343.0h0M542.7 349.7h0M138.2 346.8h0M410.2 341.2h0M423.1 338.6h0M205.8 343.3h0M521.1 348.8h0M402.5 345.0h0M121.7 337.4h0M528.4 347.7h0M382.7 338.5h0M334.3 349.4h0M228.6 338.0h0M346.1 349.6h0M348.4 348.9h0M520.7 348.6h0M342.2 343.4h0M379.2 340.5h0M342.7 344.7h0M430.9 341.4h0M478.1 342.0h0M426.8 344.4h0M246.2 344.8h0M266.2 341.8h0M583.4 349.4h0M453.5 339.6h0M547.3 339.1h0M170.4 333.2h0M276.7 332.3h0M524.1 347.0h0M162.8 341.9h0M489.1 342.2h0M320.3 345.3h0M450.6 333.1h0M469.4 336.7h0M178.3 349.0h0M190.6 349.0h0M259.4 345.0h0M156.7 340.1h0M413.5 343.7h0M429.7 346.0h0M253.4 331.8h0M463.3 347.1h0M524.5 347.8h0M434.9 342.6h0M163.8 336.2h0M362.0 346.9h0M117.1 347.7h0M575.0 340.0h0M163.1 346.6h0M570.3 347.7h0M459.9 343.7h0M180.3 335.1h0M210.6 338.1h0M131.7 346.9h0M184.5 340.0h0M480.8 330.8h0M232.5 344.3h0M160.9 348.8h0M279.6 348.3h0M480.4 345.7h0M359.8 347.2h0M112.5 341.6h0M140.5 347.9h0M468.1 338.6h0M189.7 348.6h0M511.0 343.3h0M438.2 341.2h0M110.8 337.1h0M321.6 349.1h0M445.9 333.6h0M428.7 348.9h0M407.1 347.1h0M434.0 331.6h0M533.9 348.7h0M269.8 336.1h0M547.9 348.1h0M411.8 333.6h0M333.1 348.2h0M107.9 340.4h0M256.9 346.9h0M285.9 348.3h0M459.9 341.7h0M528.1 332.1h0M153.5 344.8h0M345.9 349.2h0M282.5 333.2h0M174.5 337.1h0M413.6 346.6h0M262.2 340.4h0M291.1 341.7h0M530.3 341.5h0M372.5 336.1h0M462.7 328.6h0M377.9 326.0h0M386.1 348.3h0M439.3 345.9h0M449.6 346.1h0M331.6 343.5h0M470.2 336.5h0M135.7 333.6h0M473.6 336.5h0M354.9 348.7h0M128.2 337.4h0M519.1 342.9h0M129.7 332.9h0M149.3 348.8h0M531.6 341.7h0M194.6 346.5h0M163.4 347.9h0M440.2 340.0h0M553.4 327.8h0M302.1 341.3h0M415.7 339.9h0M102.9 349.8h0M156.8 348.1h0M239.4 345.4h0M350.9 347.5h0M146.1 349.4h0M425.2 346.3h0M327.5 347.4h0M275.2 346.8h0M180.5 349.8h0M128.5 326.8h0M474.9 342.1h0M146.9 341.1h0M573.3 347.6h0M440.1 344.0h0M306.9 345.3h0M351.2 340.9h0M136.1 341.3h0M299.0 340.2h0M341.0 349.0h0M463.1 343.9h0M279.6 335.4h0M442.5 345.7h0M99.6 337.2h0M186.6 345.8h0M455.4 341.9h0M102.0 325.3h0M136.9 325.2h0M559.4 325.8h0M505.9 325.2h0M312.4 325.3h0M108.9 325.5h0M411.1 325.5h0M165.3 326.7h0M349.5 325.8h0M430.4 326.5h0M371.5 325.1h0M216.4 325.4h0M565.2 325.7h0M308.7 326.1h0M322.1 326.6h0M128.5 326.4h0M177.2 325.2h0M270.2 325.3h0M369.2 325.2h0M533.6 325.6h0M312.7 326.4h0M369.7 326.3h0M500.0 326.8h0M405.5 326.3h0M298.7 325.9h0M575.8 325.1h0M267.7 325.1h0M562.7 325.9h0M369.4 326.5h0M480.6 326.0h0M467.3 325.2h0M399.0 325.6h0M362.2 326.6h0M318.0 326.8h0M180.7 325.1h0M279.1 326.6h0M306.1 326.8h0M390.9 326.5h0M198.9 325.7h0M547.7 326.8h0M444.1 325.8h0M331.7 326.1h0M97.2 326.2h0M349.6 326.3h0M581.6 326.3h0M508.4 325.4h0M483.2 326.0h0M337.8 325.3h0M149.6 326.5h0M98.1 326.0h0M315.1 325.1h0M550.4 326.1h0M336.1 326.7h0M462.8 325.9h0M174.4 325.3h0M112.7 326.5h0M326.9 325.1h0M160.0 326.4h0M481.6 326.3h0M549.6 326.8h0M209.0 326.3h0M509.7 326.7h0M423.8 325.3h0M571.8 325.4h0M116.6 326.0h0M199.2 326.6h0M211.5 325.5h0M375.1 326.6h0M232.5 326.8h0M548.1 325.5h0M324.5 325.1h0M573.7 326.5h0M217.0 326.5h0M401.3 325.8h0M347.1 325.5h0M352.7 326.3h0M421.2 325.2h0M116.3 326.0h0M160.5 325.5h0M304.3 325.4h0M421.7 325.1h0M377.3 325.8h0M571.9 325.4h0M258.2 326.7h0M545.8 326.8h0M546.7 325.2h0M417.7 325.2h0M391.0 325.5h0M385.4 326.5h0M130.5 325.5h0M314.2 326.6h0M367.2 326.4h0M221.0 325.3h0M396.4 325.5h0M494.3 326.1h0M314.1 326.1h0M267.8 325.5h0M527.5 326.3h0M442.2 326.5h0M95.6 325.6h0M474.3 326.3h0M582.0 325.6h0M249.9 325.5h0M507.5 326.6h0M541.0 326.1h0M226.9 326.2h0M352.2 325.9h0M236.7 326.8h0M402.6 325.6h0M434.3 326.2h0M514.4 326.8h0M155.4 326.8h0M364.9 325.9h0M203.8 325.9h0M93.5 326.8h0M566.0 325.3h0M125.9 325.7h0M342.1 325.9h0M505.9 325.7h0M555.4 325.6h0" stroke="#000" stroke-width="4.2" stroke-linecap="round" fill="none"/>
<path class="ax" d="M83.8 40.6H91.3V349.8H593"/>
<path class="ax" d="M83.8 349.8H91.3M83.8 298.3H91.3M83.8 246.7H91.3M83.8 195.2H91.3M83.8 143.7H91.3M83.8 92.2H91.3M87 324.0H91.3M87 272.5H91.3M87 221.0H91.3M87 169.4H91.3M87 117.9H91.3M87 66.4H91.3"/>
<text class="t" x="81.5" y="355.9" text-anchor="end">0</text>
<text class="t" x="81.5" y="304.4" text-anchor="end">10</text>
<text class="t" x="81.5" y="252.8" text-anchor="end">20</text>
<text class="t" x="81.5" y="201.3" text-anchor="end">30</text>
<text class="t" x="81.5" y="149.8" text-anchor="end">40</text>
<text class="t" x="81.5" y="98.3" text-anchor="end">50</text>
<text class="t" x="81.5" y="46.7" text-anchor="end">60</text>
<path d="M91.3 324.1H593" stroke="#9a6fad" stroke-width="2.4" fill="none"/>
<path d="M92.4 298.2h0M94.3 320.4h0M108.2 314.4h0M112.7 288.4h0M116.1 302.7h0M114.9 309.5h0M117.2 320.4h0M130.7 319.3h0M128.1 321.5h0M149.1 310.6h0M160.0 313.2h0M162.7 319.6h0M168.7 321.5h0M184.1 319.3h0M186.7 320.4h0M190.1 309.5h0M193.1 321.9h0M198.7 317.4h0M199.9 296.0h0M208.1 286.9h0M212.3 319.3h0M215.3 319.3h0M220.5 318.5h0M222.0 287.3h0M233.3 321.5h0M238.6 320.8h0M241.6 279.4h0M242.7 320.8h0M247.6 320.4h0M251.7 306.9h0M251.7 317.4h0M259.2 307.6h0M270.5 319.3h0M278.8 319.6h0M291.5 310.6h0M292.3 321.1h0M303.6 262.1h0M304.3 311.4h0M304.3 320.0h0M306.9 320.0h0M311.4 279.8h0M313.7 293.3h0M314.5 299.0h0M313.0 302.3h0M313.7 312.9h0M317.8 311.0h0M319.3 305.3h0M321.6 305.3h0M322.3 286.6h0M322.7 301.6h0M322.3 312.5h0M322.3 229.8h0M328.0 300.1h0M329.1 148.3h0M330.6 140.4h0M332.9 291.1h0M333.6 311.0h0M335.5 315.5h0M336.2 245.2h0M340.3 135.3h0M340.0 296.7h0M433.4 87.1h0M361.7 119.0h0M527.7 179.5h0M343.3 213.7h0M518.0 212.5h0M356.0 233.6h0M557.8 235.1h0M433.4 247.1h0M433.4 252.7h0M353.0 257.6h0M351.2 260.6h0M576.6 254.6h0M578.5 263.3h0M395.9 264.4h0M559.7 264.8h0M412.4 268.9h0M576.2 274.2h0M580.0 276.8h0M582.2 279.8h0M421.8 277.5h0M566.1 279.8h0M428.2 285.1h0M374.5 285.4h0M516.9 286.6h0M506.7 288.1h0M549.2 288.8h0M435.7 291.1h0M369.6 293.0h0M395.5 292.2h0M538.3 294.8h0M563.4 294.8h0M341.4 297.1h0M376.3 296.7h0M434.6 297.5h0M472.1 296.3h0M365.0 301.6h0M391.7 300.5h0M414.3 299.3h0M482.3 300.5h0M524.0 300.5h0M526.6 300.8h0M494.7 302.0h0M490.5 303.1h0M502.6 303.5h0M515.7 302.7h0M541.3 302.3h0M542.8 303.8h0M382.3 304.2h0M389.5 303.5h0M397.4 303.1h0M406.0 303.5h0M528.5 304.2h0M571.7 305.3h0M576.6 306.1h0M583.0 304.2h0M583.0 307.2h0M418.8 306.1h0M461.6 306.1h0M463.9 307.2h0M364.3 307.6h0M377.5 307.6h0M529.3 306.9h0M533.0 307.2h0M522.9 308.0h0M413.9 309.5h0M419.5 310.2h0M421.4 312.1h0M431.2 308.7h0M526.6 309.1h0M542.8 310.6h0M346.3 312.1h0M343.3 313.2h0M362.0 314.0h0M395.1 312.5h0M521.0 312.1h0M527.7 313.6h0M544.7 312.5h0M549.5 313.2h0M556.7 313.2h0M560.4 314.4h0M583.0 314.4h0M351.9 315.5h0M371.8 316.2h0M374.5 317.0h0M368.8 317.8h0M387.6 315.5h0M395.1 317.0h0M401.5 317.8h0M412.8 316.2h0M427.8 316.6h0M433.4 313.6h0M433.4 317.0h0M458.2 316.2h0M466.1 317.4h0M489.4 317.0h0M506.0 316.6h0M508.2 318.1h0M533.0 315.5h0M538.3 318.5h0M541.7 315.5h0M554.0 318.5h0M557.4 317.0h0M558.6 319.3h0M563.8 320.4h0M342.5 318.5h0M356.4 320.4h0M388.4 320.0h0M416.5 320.8h0M426.3 318.5h0M430.8 320.8h0M434.9 321.5h0M451.5 321.5h0M458.2 320.0h0M478.2 320.4h0M490.5 320.8h0M516.9 320.0h0M527.7 320.0h0M539.4 320.4h0M544.7 320.0h0M578.5 320.8h0M583.0 321.9h0" stroke="#9a6fad" stroke-width="3.4" stroke-linecap="round" fill="none"/>
<text class="l" x="608.6" y="329.8" style="fill:#802e8e;font-size:14.2px">Z-score = 5</text>
<text class="t" x="348.2" y="382.4" text-anchor="middle" style="font-size:19.7px">Screened small molecules</text>
<text class="t" transform="translate(44.5 193.8) rotate(-90)" text-anchor="middle">Z-score</text>
</g>
<g id="panelB">
<text class="p" x="11.6" y="430.2">B</text>
<rect class="bar" x="194.6" y="483.3" width="23.5" height="447.0"/>
<text class="l" x="206.8" y="472.8" text-anchor="middle" style="font-size:13.9px">6,721</text>
<rect class="bar" x="244.4" y="721.1" width="23.5" height="209.2"/>
<text class="l" x="256.7" y="711.8" text-anchor="middle">251</text>
<rect class="bar" x="294.3" y="835.3" width="23.5" height="95.0"/>
<text class="l" x="306.5" y="826.0" text-anchor="middle">114</text>
<rect class="bar" x="344.1" y="902.0" width="23.5" height="28.3"/>
<text class="l" x="356.4" y="892.7" text-anchor="middle">34</text>
<rect class="bar" x="394.0" y="924.5" width="23.5" height="5.8"/>
<text class="l" x="406.2" y="915.2" text-anchor="middle">7</text>
<rect class="bar" x="443.9" y="925.3" width="23.5" height="5.0"/>
<text class="l" x="456.1" y="915.8" text-anchor="middle">6</text>
<rect class="bar" x="493.7" y="928.6" width="23.5" height="1.7"/>
<text class="l" x="506.0" y="915.8" text-anchor="middle">2</text>
<rect class="bar" x="543.6" y="929.5" width="23.5" height="0.8"/>
<text class="l" x="555.8" y="915.8" text-anchor="middle">1</text>
<rect x="192.6" y="663.5" width="27.5" height="15.2" fill="#fff"/>
<path class="ax" d="M168.5 412.3H178.6V662.7M172.8 662.7H184.4M172.8 679.7H184.4M178.6 679.7V930.3"/>
<path class="ax" d="M168.5 467.8H178.6M168.5 523.3H178.6M168.5 578.8H178.6M168.5 634.4H178.6M168.5 763.6H178.6M168.5 846.9H178.6M168.2 930.3H583.6M206.5 930.3V940.8M256.4 930.3V940.8M306.2 930.3V940.8M356.1 930.3V940.8M405.9 930.3V940.8M455.8 930.3V940.8M505.7 930.3V940.8M555.5 930.3V940.8"/>
<text class="t" x="164.5" y="420.8" text-anchor="end">8,000</text>
<text class="t" x="164.5" y="476.3" text-anchor="end">7,000</text>
<text class="t" x="164.5" y="531.8" text-anchor="end">6,000</text>
<text class="t" x="164.5" y="587.3" text-anchor="end">5,000</text>
<text class="t" x="164.5" y="642.9" text-anchor="end">4,000</text>
<text class="t" x="164.5" y="688.8" text-anchor="end">300</text>
<text class="t" x="164.5" y="772.1" text-anchor="end">200</text>
<text class="t" x="164.5" y="855.4" text-anchor="end">100</text>
<text class="t" x="164.5" y="938.8" text-anchor="end">0</text>
<text class="t" x="206.3" y="963" text-anchor="middle">&lt;3</text>
<text class="t" x="256.2" y="963" text-anchor="middle">&gt;3</text>
<text class="t" x="306.0" y="963" text-anchor="middle">&gt;5</text>
<text class="t" x="355.9" y="963" text-anchor="middle">&gt;10</text>
<text class="t" x="405.7" y="963" text-anchor="middle">&gt;20</text>
<text class="t" x="455.6" y="963" text-anchor="middle">&gt;30</text>
<text class="t" x="505.5" y="963" text-anchor="middle">&gt;40</text>
<text class="t" x="555.3" y="963" text-anchor="middle">&gt;50</text>
<text class="t" x="387.2" y="995.9" text-anchor="middle" style="font-size:19.4px">Z-score</text>
<text class="t" transform="translate(92.1 661.6) rotate(-90)" text-anchor="middle" style="font-size:19.4px">Number of compounds</text>
</g>
<g id="panelC">
<text class="p" x="11.6" y="1050.4">C</text>
<path d="M221.70 1225.20L221.70 1081.50A143.7 143.7 0 0 1 232.70 1081.92Z" fill="#7f7fff" stroke="#fff" stroke-width="0.38" stroke-linejoin="round"/>
<path d="M221.70 1225.20L232.70 1081.92A143.7 143.7 0 0 1 243.64 1083.18Z" fill="#ffa040" stroke="#fff" stroke-width="0.38" stroke-linejoin="round"/>
<path d="M221.70 1225.20L243.64 1083.18A143.7 143.7 0 0 1 254.44 1085.28Z" fill="#80df80" stroke="#fff" stroke-width="0.38" stroke-linejoin="round"/>
<path d="M221.70 1225.20L254.44 1085.28A143.7 143.7 0 0 1 265.06 1088.20Z" fill="#d383f5" stroke="#fff" stroke-width="0.38" stroke-linejoin="round"/>
<path d="M231.92 1198.38L275.27 1061.38A143.7 143.7 0 0 1 290.70 1067.25Z" fill="#9a6fad" stroke="#fff" stroke-width="0.38" stroke-linejoin="round"/>
<path d="M221.70 1225.20L280.48 1094.07A143.7 143.7 0 0 1 295.13 1101.68Z" fill="#808080" stroke="#fff" stroke-width="0.38" stroke-linejoin="round"/>
<path d="M221.70 1225.20L295.13 1101.68A143.7 143.7 0 0 1 313.13 1114.34Z" fill="#c9b091" stroke="#fff" stroke-width="0.38" stroke-linejoin="round"/>
<path d="M221.70 1225.20L313.13 1114.34A143.7 143.7 0 0 1 328.98 1129.59Z" fill="#7f7fc0" stroke="#fff" stroke-width="0.38" stroke-linejoin="round"/>
<path d="M221.70 1225.20L328.98 1129.59A143.7 143.7 0 0 1 342.32 1147.09Z" fill="#ae7fa8" stroke="#fff" stroke-width="0.38" stroke-linejoin="round"/>
<path d="M221.70 1225.20L342.32 1147.09A143.7 143.7 0 0 1 356.94 1176.63Z" fill="#d08080" stroke="#fff" stroke-width="0.38" stroke-linejoin="round"/>
<path d="M221.70 1225.20L356.94 1176.63A143.7 143.7 0 0 1 364.45 1208.72Z" fill="#80ad80" stroke="#fff" stroke-width="0.38" stroke-linejoin="round"/>
<path d="M250.40 1225.20L393.15 1208.72A143.7 143.7 0 0 1 393.15 1241.68Z" fill="#f84fd8" stroke="#fff" stroke-width="0.38" stroke-linejoin="round"/>
<path d="M221.70 1225.20L364.45 1241.68A143.7 143.7 0 0 1 352.83 1283.98Z" fill="#80ff80" stroke="#fff" stroke-width="0.38" stroke-linejoin="round"/>
<path d="M221.70 1225.20L352.83 1283.98A143.7 143.7 0 0 1 325.24 1324.85Z" fill="#c8ddfb" stroke="#fff" stroke-width="0.38" stroke-linejoin="round"/>
<path d="M221.70 1225.20L325.24 1324.85A143.7 143.7 0 0 1 285.46 1353.98Z" fill="#dfdfff" stroke="#fff" stroke-width="0.38" stroke-linejoin="round"/>
<path d="M221.70 1225.20L285.46 1353.98A143.7 143.7 0 0 1 205.22 1367.95Z" fill="#adadad" stroke="#fff" stroke-width="0.38" stroke-linejoin="round"/>
<path d="M221.70 1225.20L205.22 1367.95A143.7 143.7 0 0 1 88.42 1278.92Z" fill="#ffff80" stroke="#fff" stroke-width="0.38" stroke-linejoin="round"/>
<path d="M221.70 1225.20L88.42 1278.92A143.7 143.7 0 0 1 139.03 1107.66Z" fill="#dfae80" stroke="#fff" stroke-width="0.38" stroke-linejoin="round"/>
<path d="M221.70 1225.20L139.03 1107.66A143.7 143.7 0 0 1 221.70 1081.50Z" fill="#e8e8e8" stroke="#fff" stroke-width="0.38" stroke-linejoin="round"/>
<path class="br" d="M228.3 1074.5V1069.6H262V1084.2M280.5 1058.2V1052.9H293.6V1090.4M305.8 1103.2V1099.1H340.8V1137.2M354.3 1162.5H404.8V1239.8H400.4M346.5 1309.7V1348.8H306.5"/>
<text class="t" x="229.0" y="1065.1" style="font-size:19.3px">1.2%</text>
<text class="t" x="276.5" y="1047.0" style="font-size:19.3px">1.8%</text>
<text class="t" x="310.5" y="1093.9" style="font-size:19.3px">2.4%</text>
<text class="t" x="411.0" y="1199.7" style="font-size:19.3px">3.7%</text>
<text class="t" x="363.5" y="1274.8" style="font-size:19.3px">4.9%</text>
<text class="t" x="349.2" y="1335.2" style="font-size:19.3px">5.5%</text>
<text class="t" x="231.5" y="1386.3" style="font-size:19.3px">9.1%</text>
<text class="t" x="100.5" y="1368.3" style="font-size:19.3px">17.1%</text>
<text class="t" x="32.3" y="1150.8" style="font-size:19.3px">21.4%</text>
<text class="t" x="159.0" y="1083.9" style="font-size:19.3px">9.8%</text>
<rect x="464.1" y="1120.2" width="13.2" height="12.8" fill="#7f7fff"/>
<text class="g" x="485" y="1131.4">Autophagy</text>
<rect x="464.1" y="1134.4" width="13.2" height="12.8" fill="#ffa040"/>
<text class="g" x="485" y="1145.6">Apoptosis</text>
<rect x="464.1" y="1148.6" width="13.2" height="12.8" fill="#80df80"/>
<text class="g" x="485" y="1159.8">MMP</text>
<rect x="464.1" y="1162.8" width="13.2" height="12.8" fill="#d383f5"/>
<text class="g" x="485" y="1174.0">Vitamin</text>
<rect x="464.1" y="1177.0" width="13.2" height="12.8" fill="#9a6fad"/>
<text class="g" x="485" y="1188.2">DNA/RNA synthesis</text>
<rect x="464.1" y="1191.2" width="13.2" height="12.8" fill="#808080"/>
<text class="g" x="485" y="1202.4">Haemostasis</text>
<rect x="464.1" y="1205.4" width="13.2" height="12.8" fill="#c9b091"/>
<text class="g" x="485" y="1216.6">Ion channel/transporter</text>
<rect x="464.1" y="1219.6" width="13.2" height="12.8" fill="#7f7fc0"/>
<text class="g" x="485" y="1230.8">Antiviral</text>
<rect x="464.1" y="1233.8" width="13.2" height="12.8" fill="#ae7fa8"/>
<text class="g" x="485" y="1245.0">Proteasome</text>
<rect x="464.1" y="1248.0" width="13.2" height="12.8" fill="#d08080"/>
<text class="g" x="485" y="1259.2">Microtubule/tubulin</text>
<rect x="464.1" y="1262.2" width="13.2" height="12.8" fill="#80ad80"/>
<text class="g" x="485" y="1273.4">Topoisomerase</text>
<rect x="464.1" y="1276.4" width="13.2" height="12.8" fill="#f84fd8"/>
<text class="g" x="485" y="1287.6">HDAC</text>
<rect x="464.1" y="1290.6" width="13.2" height="12.8" fill="#80ff80"/>
<text class="g" x="485" y="1301.8">Reductases</text>
<rect x="464.1" y="1304.8" width="13.2" height="12.8" fill="#c8ddfb"/>
<text class="g" x="485" y="1316.0">Kinases</text>
<rect x="464.1" y="1319.0" width="13.2" height="12.8" fill="#dfdfff"/>
<text class="g" x="485" y="1330.2">PDE</text>
<rect x="464.1" y="1333.2" width="13.2" height="12.8" fill="#adadad"/>
<text class="g" x="485" y="1344.4">Antimicrobials</text>
<rect x="464.1" y="1347.4" width="13.2" height="12.8" fill="#ffff80"/>
<text class="g" x="485" y="1358.6">Receptors</text>
<rect x="464.1" y="1361.6" width="13.2" height="12.8" fill="#dfae80"/>
<text class="g" x="485" y="1372.8">Nucleoside-like compounds</text>
<rect x="464.1" y="1375.8" width="13.2" height="12.8" fill="#e8e8e8"/>
<text class="g" x="485" y="1387.0">Others</text>
</g>
</svg></body></html>
